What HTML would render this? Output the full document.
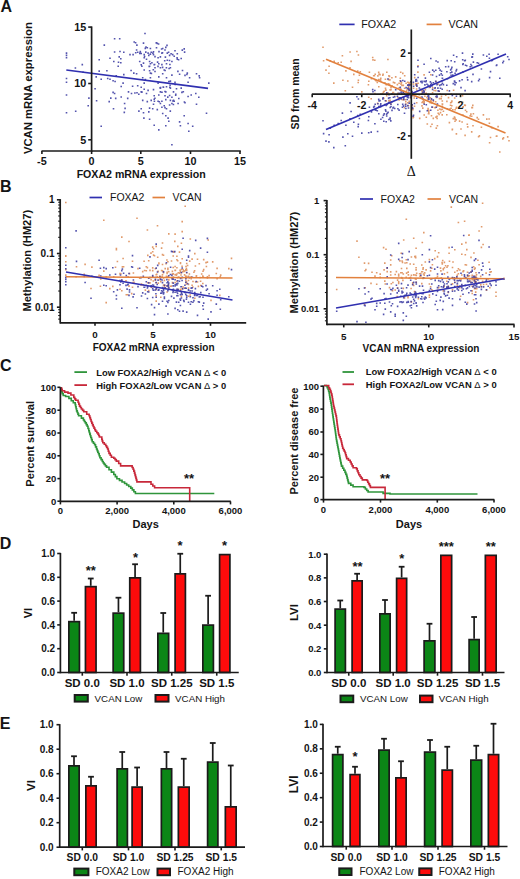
<!DOCTYPE html>
<html><head><meta charset="utf-8"><title>Figure</title>
<style>html,body{margin:0;padding:0;background:#fff;overflow:hidden;} svg{display:block;}</style></head>
<body><svg width="520" height="879" viewBox="0 0 520 879">
<rect width="520" height="879" fill="#fff"/>
<text x="0.40" y="12.30" font-family='"Liberation Sans", sans-serif' font-size="16" font-weight="bold" text-anchor="start" fill="#141414">A</text>
<path d="M113.8 38.0h1.6v1.6h-1.6zM118.9 38.0h1.6v1.6h-1.6zM103.5 44.3h1.6v1.6h-1.6zM133.4 41.2h1.6v1.6h-1.6zM136.1 44.3h1.6v1.6h-1.6zM135.8 49.2h1.6v1.6h-1.6zM136.9 51.5h1.6v1.6h-1.6zM113.8 51.2h1.6v1.6h-1.6zM119.2 50.7h1.6v1.6h-1.6zM123.0 51.5h1.6v1.6h-1.6zM129.2 53.8h1.6v1.6h-1.6zM132.3 53.8h1.6v1.6h-1.6zM118.4 56.1h1.6v1.6h-1.6zM120.0 58.0h1.6v1.6h-1.6zM109.2 57.4h1.6v1.6h-1.6zM98.4 58.9h1.6v1.6h-1.6zM113.0 60.7h1.6v1.6h-1.6zM117.7 61.5h1.6v1.6h-1.6zM120.0 62.0h1.6v1.6h-1.6zM117.4 65.4h1.6v1.6h-1.6zM81.5 63.8h1.6v1.6h-1.6zM74.6 67.2h1.6v1.6h-1.6zM65.7 52.3h1.6v1.6h-1.6zM65.7 56.9h1.6v1.6h-1.6zM65.7 77.7h1.6v1.6h-1.6zM65.7 81.5h1.6v1.6h-1.6zM82.3 71.5h1.6v1.6h-1.6zM98.4 70.3h1.6v1.6h-1.6zM106.1 70.0h1.6v1.6h-1.6zM130.3 69.7h1.6v1.6h-1.6zM133.0 72.3h1.6v1.6h-1.6zM135.8 73.0h1.6v1.6h-1.6zM95.4 76.1h1.6v1.6h-1.6zM100.4 78.4h1.6v1.6h-1.6zM106.9 77.7h1.6v1.6h-1.6zM109.2 78.4h1.6v1.6h-1.6zM112.3 80.0h1.6v1.6h-1.6zM114.3 80.7h1.6v1.6h-1.6zM115.4 74.9h1.6v1.6h-1.6zM123.0 73.8h1.6v1.6h-1.6zM122.3 82.3h1.6v1.6h-1.6zM138.9 60.7h1.6v1.6h-1.6zM65.7 54.6h1.6v1.6h-1.6zM65.7 94.2h1.6v1.6h-1.6zM65.7 111.9h1.6v1.6h-1.6zM74.9 110.4h1.6v1.6h-1.6zM88.1 97.3h1.6v1.6h-1.6zM87.4 105.0h1.6v1.6h-1.6zM94.3 88.0h1.6v1.6h-1.6zM95.8 99.9h1.6v1.6h-1.6zM100.4 125.4h1.6v1.6h-1.6zM108.4 100.8h1.6v1.6h-1.6zM110.0 97.3h1.6v1.6h-1.6zM112.3 91.6h1.6v1.6h-1.6zM113.8 92.7h1.6v1.6h-1.6zM114.9 97.6h1.6v1.6h-1.6zM112.7 108.0h1.6v1.6h-1.6zM120.4 96.2h1.6v1.6h-1.6zM120.4 85.7h1.6v1.6h-1.6zM123.8 102.7h1.6v1.6h-1.6zM124.3 107.6h1.6v1.6h-1.6zM123.5 111.6h1.6v1.6h-1.6zM126.9 97.6h1.6v1.6h-1.6zM127.7 91.1h1.6v1.6h-1.6zM130.7 92.7h1.6v1.6h-1.6zM134.1 92.2h1.6v1.6h-1.6zM138.0 93.4h1.6v1.6h-1.6zM131.8 85.4h1.6v1.6h-1.6zM136.9 85.0h1.6v1.6h-1.6zM144.2 32.7h1.6v1.6h-1.6zM142.7 42.3h1.6v1.6h-1.6zM156.5 42.6h1.6v1.6h-1.6zM146.5 46.9h1.6v1.6h-1.6zM149.6 47.7h1.6v1.6h-1.6zM155.7 46.9h1.6v1.6h-1.6zM161.9 47.7h1.6v1.6h-1.6zM165.0 46.6h1.6v1.6h-1.6zM164.2 49.2h1.6v1.6h-1.6zM174.2 50.0h1.6v1.6h-1.6zM183.4 48.1h1.6v1.6h-1.6zM140.4 52.7h1.6v1.6h-1.6zM143.4 53.8h1.6v1.6h-1.6zM147.3 52.3h1.6v1.6h-1.6zM148.0 54.6h1.6v1.6h-1.6zM150.4 51.5h1.6v1.6h-1.6zM152.7 53.8h1.6v1.6h-1.6zM154.2 55.8h1.6v1.6h-1.6zM157.3 56.9h1.6v1.6h-1.6zM159.6 56.1h1.6v1.6h-1.6zM161.1 52.3h1.6v1.6h-1.6zM166.5 52.3h1.6v1.6h-1.6zM168.8 54.6h1.6v1.6h-1.6zM171.9 53.8h1.6v1.6h-1.6zM173.4 55.4h1.6v1.6h-1.6zM176.5 58.4h1.6v1.6h-1.6zM180.4 57.7h1.6v1.6h-1.6zM143.4 56.9h1.6v1.6h-1.6zM145.7 58.4h1.6v1.6h-1.6zM142.7 62.3h1.6v1.6h-1.6zM148.8 60.7h1.6v1.6h-1.6zM149.6 63.0h1.6v1.6h-1.6zM151.1 62.0h1.6v1.6h-1.6zM153.4 63.8h1.6v1.6h-1.6zM158.0 63.0h1.6v1.6h-1.6zM161.1 63.8h1.6v1.6h-1.6zM166.5 59.5h1.6v1.6h-1.6zM171.1 60.7h1.6v1.6h-1.6zM165.7 63.0h1.6v1.6h-1.6zM141.1 65.4h1.6v1.6h-1.6zM148.8 65.4h1.6v1.6h-1.6zM154.2 66.9h1.6v1.6h-1.6zM159.6 66.9h1.6v1.6h-1.6zM163.4 69.2h1.6v1.6h-1.6zM169.6 66.9h1.6v1.6h-1.6zM143.4 69.2h1.6v1.6h-1.6zM148.8 70.0h1.6v1.6h-1.6zM149.6 72.3h1.6v1.6h-1.6zM154.2 70.7h1.6v1.6h-1.6zM161.9 73.0h1.6v1.6h-1.6zM171.1 74.3h1.6v1.6h-1.6zM178.8 73.4h1.6v1.6h-1.6zM184.2 74.6h1.6v1.6h-1.6zM186.5 72.3h1.6v1.6h-1.6zM188.8 76.9h1.6v1.6h-1.6zM195.7 73.0h1.6v1.6h-1.6zM198.8 76.9h1.6v1.6h-1.6zM141.9 76.9h1.6v1.6h-1.6zM149.6 76.9h1.6v1.6h-1.6zM158.0 76.1h1.6v1.6h-1.6zM165.7 76.9h1.6v1.6h-1.6zM168.0 80.7h1.6v1.6h-1.6zM174.2 81.5h1.6v1.6h-1.6zM187.3 81.5h1.6v1.6h-1.6zM208.0 82.3h1.6v1.6h-1.6zM143.4 82.3h1.6v1.6h-1.6zM157.3 82.3h1.6v1.6h-1.6zM140.4 86.5h1.6v1.6h-1.6zM143.4 88.5h1.6v1.6h-1.6zM147.3 89.6h1.6v1.6h-1.6zM152.7 88.8h1.6v1.6h-1.6zM159.6 87.3h1.6v1.6h-1.6zM162.7 86.5h1.6v1.6h-1.6zM165.7 86.0h1.6v1.6h-1.6zM169.6 87.3h1.6v1.6h-1.6zM175.7 88.0h1.6v1.6h-1.6zM180.4 87.3h1.6v1.6h-1.6zM181.1 91.6h1.6v1.6h-1.6zM140.4 91.1h1.6v1.6h-1.6zM145.7 92.7h1.6v1.6h-1.6zM159.6 91.1h1.6v1.6h-1.6zM165.0 91.1h1.6v1.6h-1.6zM172.7 91.1h1.6v1.6h-1.6zM175.0 93.4h1.6v1.6h-1.6zM153.4 95.0h1.6v1.6h-1.6zM158.0 94.2h1.6v1.6h-1.6zM164.2 95.0h1.6v1.6h-1.6zM168.8 94.7h1.6v1.6h-1.6zM171.1 96.5h1.6v1.6h-1.6zM178.0 97.7h1.6v1.6h-1.6zM187.3 95.7h1.6v1.6h-1.6zM190.4 94.2h1.6v1.6h-1.6zM195.0 92.7h1.6v1.6h-1.6zM198.0 96.5h1.6v1.6h-1.6zM141.9 99.6h1.6v1.6h-1.6zM146.5 100.8h1.6v1.6h-1.6zM150.4 99.6h1.6v1.6h-1.6zM153.4 98.4h1.6v1.6h-1.6zM157.3 100.4h1.6v1.6h-1.6zM161.1 100.4h1.6v1.6h-1.6zM165.0 98.8h1.6v1.6h-1.6zM169.6 99.6h1.6v1.6h-1.6zM173.4 100.4h1.6v1.6h-1.6zM152.7 103.4h1.6v1.6h-1.6zM159.6 102.7h1.6v1.6h-1.6zM163.4 105.0h1.6v1.6h-1.6zM168.8 104.2h1.6v1.6h-1.6zM171.1 102.7h1.6v1.6h-1.6zM177.3 102.7h1.6v1.6h-1.6zM184.2 101.9h1.6v1.6h-1.6zM195.7 103.4h1.6v1.6h-1.6zM140.4 108.0h1.6v1.6h-1.6zM148.8 107.3h1.6v1.6h-1.6zM151.9 108.0h1.6v1.6h-1.6zM156.5 108.8h1.6v1.6h-1.6zM161.1 106.5h1.6v1.6h-1.6zM165.7 108.0h1.6v1.6h-1.6zM142.7 111.9h1.6v1.6h-1.6zM148.0 111.1h1.6v1.6h-1.6zM161.9 112.7h1.6v1.6h-1.6zM165.0 115.0h1.6v1.6h-1.6zM167.3 117.3h1.6v1.6h-1.6zM168.0 120.4h1.6v1.6h-1.6zM183.4 115.0h1.6v1.6h-1.6zM205.7 112.4h1.6v1.6h-1.6zM143.1 117.3h1.6v1.6h-1.6zM148.8 118.4h1.6v1.6h-1.6zM178.8 121.1h1.6v1.6h-1.6zM187.3 122.7h1.6v1.6h-1.6zM153.4 124.5h1.6v1.6h-1.6zM165.0 125.0h1.6v1.6h-1.6zM179.6 125.0h1.6v1.6h-1.6zM191.9 125.4h1.6v1.6h-1.6zM158.0 129.1h1.6v1.6h-1.6zM188.0 130.4h1.6v1.6h-1.6zM171.1 143.9h1.6v1.6h-1.6zM198.4 75.1h1.6v1.6h-1.6zM181.7 69.7h1.6v1.6h-1.6zM158.5 101.0h1.6v1.6h-1.6zM164.2 90.7h1.6v1.6h-1.6zM186.1 73.7h1.6v1.6h-1.6zM160.8 48.2h1.6v1.6h-1.6zM144.6 78.7h1.6v1.6h-1.6zM136.2 92.0h1.6v1.6h-1.6zM177.1 70.6h1.6v1.6h-1.6zM145.0 51.3h1.6v1.6h-1.6zM157.8 43.2h1.6v1.6h-1.6zM170.3 52.9h1.6v1.6h-1.6zM157.2 65.6h1.6v1.6h-1.6zM174.4 83.6h1.6v1.6h-1.6zM134.8 41.9h1.6v1.6h-1.6zM140.4 64.0h1.6v1.6h-1.6zM172.6 103.7h1.6v1.6h-1.6zM153.6 100.4h1.6v1.6h-1.6zM155.5 42.1h1.6v1.6h-1.6zM166.2 44.6h1.6v1.6h-1.6zM136.9 51.4h1.6v1.6h-1.6zM161.7 51.9h1.6v1.6h-1.6zM161.8 66.6h1.6v1.6h-1.6zM145.2 46.2h1.6v1.6h-1.6zM174.9 94.5h1.6v1.6h-1.6zM168.7 59.7h1.6v1.6h-1.6zM176.5 52.9h1.6v1.6h-1.6zM139.5 50.8h1.6v1.6h-1.6zM152.1 52.3h1.6v1.6h-1.6zM169.3 84.5h1.6v1.6h-1.6zM181.5 49.3h1.6v1.6h-1.6zM168.3 67.7h1.6v1.6h-1.6zM149.6 53.3h1.6v1.6h-1.6zM161.2 91.4h1.6v1.6h-1.6zM163.9 59.9h1.6v1.6h-1.6zM169.0 86.4h1.6v1.6h-1.6zM143.8 55.7h1.6v1.6h-1.6zM154.1 97.4h1.6v1.6h-1.6zM164.3 69.7h1.6v1.6h-1.6zM159.3 87.0h1.6v1.6h-1.6zM152.5 68.9h1.6v1.6h-1.6zM159.8 86.8h1.6v1.6h-1.6zM138.1 110.3h1.6v1.6h-1.6zM156.8 61.3h1.6v1.6h-1.6zM176.3 56.9h1.6v1.6h-1.6zM182.5 91.0h1.6v1.6h-1.6zM165.6 66.9h1.6v1.6h-1.6zM150.6 72.7h1.6v1.6h-1.6zM169.6 80.3h1.6v1.6h-1.6zM167.0 96.3h1.6v1.6h-1.6zM164.2 106.8h1.6v1.6h-1.6zM158.2 50.8h1.6v1.6h-1.6zM183.8 51.3h1.6v1.6h-1.6zM183.6 101.2h1.6v1.6h-1.6zM167.8 51.5h1.6v1.6h-1.6zM139.0 52.6h1.6v1.6h-1.6zM177.8 59.0h1.6v1.6h-1.6zM148.4 65.6h1.6v1.6h-1.6zM152.7 50.9h1.6v1.6h-1.6zM164.6 56.3h1.6v1.6h-1.6zM162.4 86.2h1.6v1.6h-1.6zM134.9 51.9h1.6v1.6h-1.6zM153.8 63.7h1.6v1.6h-1.6zM141.1 91.5h1.6v1.6h-1.6zM149.9 72.5h1.6v1.6h-1.6zM144.5 47.6h1.6v1.6h-1.6zM140.9 91.0h1.6v1.6h-1.6zM172.7 99.4h1.6v1.6h-1.6zM169.1 63.7h1.6v1.6h-1.6zM169.5 110.3h1.6v1.6h-1.6zM172.1 100.2h1.6v1.6h-1.6z" fill="#3636a0" fill-opacity="0.85"/>
<line x1="66.30" y1="70.00" x2="208.00" y2="88.30" stroke="#3030b0" stroke-width="1.7" stroke-linecap="butt"/>
<line x1="91.60" y1="26.40" x2="91.60" y2="151.80" stroke="#1b1b1b" stroke-width="1.7" stroke-linecap="butt"/>
<line x1="41.50" y1="151.00" x2="240.80" y2="151.00" stroke="#1b1b1b" stroke-width="1.7" stroke-linecap="butt"/>
<line x1="88.20" y1="27.10" x2="91.60" y2="27.10" stroke="#1b1b1b" stroke-width="1.6" stroke-linecap="butt"/>
<text x="86.20" y="30.99" font-family='"Liberation Sans", sans-serif' font-size="10.8" font-weight="bold" text-anchor="end" fill="#141414">15</text>
<line x1="88.20" y1="83.50" x2="91.60" y2="83.50" stroke="#1b1b1b" stroke-width="1.6" stroke-linecap="butt"/>
<text x="86.20" y="87.39" font-family='"Liberation Sans", sans-serif' font-size="10.8" font-weight="bold" text-anchor="end" fill="#141414">10</text>
<line x1="88.20" y1="139.80" x2="91.60" y2="139.80" stroke="#1b1b1b" stroke-width="1.6" stroke-linecap="butt"/>
<text x="86.20" y="143.69" font-family='"Liberation Sans", sans-serif' font-size="10.8" font-weight="bold" text-anchor="end" fill="#141414">5</text>
<line x1="41.90" y1="151.00" x2="41.90" y2="154.00" stroke="#1b1b1b" stroke-width="1.6" stroke-linecap="butt"/>
<text x="41.90" y="165.30" font-family='"Liberation Sans", sans-serif' font-size="10.8" font-weight="bold" text-anchor="middle" fill="#141414">-5</text>
<line x1="91.60" y1="151.00" x2="91.60" y2="154.00" stroke="#1b1b1b" stroke-width="1.6" stroke-linecap="butt"/>
<text x="91.60" y="165.30" font-family='"Liberation Sans", sans-serif' font-size="10.8" font-weight="bold" text-anchor="middle" fill="#141414">0</text>
<line x1="140.80" y1="151.00" x2="140.80" y2="154.00" stroke="#1b1b1b" stroke-width="1.6" stroke-linecap="butt"/>
<text x="140.80" y="165.30" font-family='"Liberation Sans", sans-serif' font-size="10.8" font-weight="bold" text-anchor="middle" fill="#141414">5</text>
<line x1="190.50" y1="151.00" x2="190.50" y2="154.00" stroke="#1b1b1b" stroke-width="1.6" stroke-linecap="butt"/>
<text x="190.50" y="165.30" font-family='"Liberation Sans", sans-serif' font-size="10.8" font-weight="bold" text-anchor="middle" fill="#141414">10</text>
<line x1="240.00" y1="151.00" x2="240.00" y2="154.00" stroke="#1b1b1b" stroke-width="1.6" stroke-linecap="butt"/>
<text x="240.00" y="165.30" font-family='"Liberation Sans", sans-serif' font-size="10.8" font-weight="bold" text-anchor="middle" fill="#141414">15</text>
<text x="141.20" y="177.50" font-family='"Liberation Sans", sans-serif' font-size="10.6" font-weight="bold" text-anchor="middle" fill="#141414">FOXA2 mRNA expression</text>
<text x="31.80" y="88.10" font-family='"Liberation Sans", sans-serif' font-size="11.3" font-weight="bold" text-anchor="middle" fill="#141414" transform="rotate(-90 31.80 88.10)">VCAN mRNA expression</text>
<path d="M397.1 96.7h1.6v1.6h-1.6zM427.3 98.3h1.6v1.6h-1.6zM412.6 83.2h1.6v1.6h-1.6zM461.3 121.2h1.6v1.6h-1.6zM373.6 75.0h1.6v1.6h-1.6zM385.5 83.9h1.6v1.6h-1.6zM497.3 125.8h1.6v1.6h-1.6zM423.4 114.2h1.6v1.6h-1.6zM439.7 111.8h1.6v1.6h-1.6zM383.4 90.5h1.6v1.6h-1.6zM371.9 56.7h1.6v1.6h-1.6zM416.0 84.8h1.6v1.6h-1.6zM374.1 92.7h1.6v1.6h-1.6zM421.3 90.8h1.6v1.6h-1.6zM434.4 106.8h1.6v1.6h-1.6zM372.2 59.1h1.6v1.6h-1.6zM344.5 90.0h1.6v1.6h-1.6zM393.9 82.1h1.6v1.6h-1.6zM389.3 99.6h1.6v1.6h-1.6zM438.3 113.6h1.6v1.6h-1.6zM470.9 131.1h1.6v1.6h-1.6zM382.7 91.3h1.6v1.6h-1.6zM452.6 117.8h1.6v1.6h-1.6zM387.8 83.0h1.6v1.6h-1.6zM388.1 75.1h1.6v1.6h-1.6zM322.2 46.4h1.6v1.6h-1.6zM440.4 108.8h1.6v1.6h-1.6zM424.1 95.4h1.6v1.6h-1.6zM391.2 85.0h1.6v1.6h-1.6zM372.9 75.0h1.6v1.6h-1.6zM471.6 106.9h1.6v1.6h-1.6zM353.0 73.6h1.6v1.6h-1.6zM452.0 108.9h1.6v1.6h-1.6zM394.9 76.1h1.6v1.6h-1.6zM437.1 83.3h1.6v1.6h-1.6zM368.0 80.5h1.6v1.6h-1.6zM427.2 109.2h1.6v1.6h-1.6zM429.4 101.8h1.6v1.6h-1.6zM470.1 113.3h1.6v1.6h-1.6zM406.4 95.2h1.6v1.6h-1.6zM423.3 74.1h1.6v1.6h-1.6zM402.9 90.6h1.6v1.6h-1.6zM408.4 83.0h1.6v1.6h-1.6zM421.3 101.7h1.6v1.6h-1.6zM488.3 118.2h1.6v1.6h-1.6zM388.1 100.0h1.6v1.6h-1.6zM410.1 96.6h1.6v1.6h-1.6zM488.8 142.0h1.6v1.6h-1.6zM408.5 82.3h1.6v1.6h-1.6zM384.1 81.9h1.6v1.6h-1.6zM378.3 73.3h1.6v1.6h-1.6zM376.8 102.6h1.6v1.6h-1.6zM407.7 104.9h1.6v1.6h-1.6zM435.5 127.3h1.6v1.6h-1.6zM440.7 95.6h1.6v1.6h-1.6zM379.8 80.5h1.6v1.6h-1.6zM446.7 108.1h1.6v1.6h-1.6zM486.0 118.3h1.6v1.6h-1.6zM431.2 102.4h1.6v1.6h-1.6zM452.8 89.5h1.6v1.6h-1.6zM466.9 126.1h1.6v1.6h-1.6zM415.1 82.8h1.6v1.6h-1.6zM477.8 136.0h1.6v1.6h-1.6zM420.0 88.7h1.6v1.6h-1.6zM436.2 105.2h1.6v1.6h-1.6zM441.5 105.6h1.6v1.6h-1.6zM415.6 82.9h1.6v1.6h-1.6zM357.4 81.7h1.6v1.6h-1.6zM403.7 106.9h1.6v1.6h-1.6zM328.1 72.5h1.6v1.6h-1.6zM367.9 96.5h1.6v1.6h-1.6zM398.4 86.9h1.6v1.6h-1.6zM437.1 109.4h1.6v1.6h-1.6zM438.9 108.2h1.6v1.6h-1.6zM433.3 89.7h1.6v1.6h-1.6zM359.5 70.9h1.6v1.6h-1.6zM392.6 81.6h1.6v1.6h-1.6zM402.8 98.9h1.6v1.6h-1.6zM423.4 91.3h1.6v1.6h-1.6zM428.6 86.6h1.6v1.6h-1.6zM449.9 101.9h1.6v1.6h-1.6zM427.9 109.8h1.6v1.6h-1.6zM393.9 93.8h1.6v1.6h-1.6zM476.4 116.8h1.6v1.6h-1.6zM378.0 78.8h1.6v1.6h-1.6zM412.0 108.8h1.6v1.6h-1.6zM429.6 97.0h1.6v1.6h-1.6zM403.9 75.0h1.6v1.6h-1.6zM447.7 96.8h1.6v1.6h-1.6zM441.5 100.2h1.6v1.6h-1.6zM400.2 83.3h1.6v1.6h-1.6zM407.8 94.6h1.6v1.6h-1.6zM387.8 78.4h1.6v1.6h-1.6zM454.4 118.5h1.6v1.6h-1.6zM422.0 107.3h1.6v1.6h-1.6zM451.5 128.8h1.6v1.6h-1.6zM496.0 135.3h1.6v1.6h-1.6zM405.0 100.9h1.6v1.6h-1.6zM461.9 101.6h1.6v1.6h-1.6zM451.0 105.0h1.6v1.6h-1.6zM407.0 101.9h1.6v1.6h-1.6zM406.4 88.7h1.6v1.6h-1.6zM434.9 100.9h1.6v1.6h-1.6zM387.1 58.7h1.6v1.6h-1.6zM333.0 82.3h1.6v1.6h-1.6zM441.5 108.5h1.6v1.6h-1.6zM396.6 83.8h1.6v1.6h-1.6zM375.2 79.9h1.6v1.6h-1.6zM438.7 97.8h1.6v1.6h-1.6zM426.2 96.6h1.6v1.6h-1.6zM377.1 75.1h1.6v1.6h-1.6zM411.3 95.0h1.6v1.6h-1.6zM409.3 83.3h1.6v1.6h-1.6zM379.2 73.8h1.6v1.6h-1.6zM342.1 79.4h1.6v1.6h-1.6zM430.7 114.9h1.6v1.6h-1.6zM341.6 54.9h1.6v1.6h-1.6zM480.6 126.5h1.6v1.6h-1.6zM385.1 89.3h1.6v1.6h-1.6zM407.0 81.4h1.6v1.6h-1.6zM376.5 81.6h1.6v1.6h-1.6zM458.8 120.3h1.6v1.6h-1.6zM470.9 115.4h1.6v1.6h-1.6zM391.2 93.5h1.6v1.6h-1.6zM441.7 103.3h1.6v1.6h-1.6zM367.6 84.0h1.6v1.6h-1.6zM421.2 105.1h1.6v1.6h-1.6zM413.9 76.8h1.6v1.6h-1.6zM463.8 104.3h1.6v1.6h-1.6zM350.3 60.6h1.6v1.6h-1.6zM408.0 81.8h1.6v1.6h-1.6zM425.0 93.0h1.6v1.6h-1.6zM390.2 88.8h1.6v1.6h-1.6zM428.1 113.0h1.6v1.6h-1.6zM385.9 94.8h1.6v1.6h-1.6zM455.8 106.5h1.6v1.6h-1.6zM435.2 116.3h1.6v1.6h-1.6zM418.9 117.6h1.6v1.6h-1.6zM411.2 107.0h1.6v1.6h-1.6zM380.0 77.5h1.6v1.6h-1.6zM439.3 93.3h1.6v1.6h-1.6zM402.5 84.6h1.6v1.6h-1.6zM462.0 106.5h1.6v1.6h-1.6zM415.8 88.2h1.6v1.6h-1.6zM419.8 96.4h1.6v1.6h-1.6zM340.4 61.4h1.6v1.6h-1.6zM508.2 140.0h1.6v1.6h-1.6zM438.3 90.5h1.6v1.6h-1.6zM464.3 134.6h1.6v1.6h-1.6zM464.7 109.5h1.6v1.6h-1.6zM413.7 105.4h1.6v1.6h-1.6zM450.4 93.3h1.6v1.6h-1.6zM399.9 71.5h1.6v1.6h-1.6zM357.6 79.4h1.6v1.6h-1.6zM378.0 85.9h1.6v1.6h-1.6zM451.6 128.4h1.6v1.6h-1.6zM388.8 83.7h1.6v1.6h-1.6zM410.1 80.9h1.6v1.6h-1.6zM390.0 103.1h1.6v1.6h-1.6zM416.1 90.2h1.6v1.6h-1.6zM398.3 99.2h1.6v1.6h-1.6zM478.6 135.1h1.6v1.6h-1.6zM449.7 104.5h1.6v1.6h-1.6zM430.0 73.9h1.6v1.6h-1.6zM400.3 89.6h1.6v1.6h-1.6zM328.3 65.5h1.6v1.6h-1.6zM374.5 79.1h1.6v1.6h-1.6zM382.3 73.6h1.6v1.6h-1.6zM451.1 100.3h1.6v1.6h-1.6zM472.6 112.9h1.6v1.6h-1.6zM432.6 100.4h1.6v1.6h-1.6zM477.7 118.5h1.6v1.6h-1.6zM389.4 89.1h1.6v1.6h-1.6zM400.7 81.9h1.6v1.6h-1.6zM411.2 91.4h1.6v1.6h-1.6zM464.5 104.6h1.6v1.6h-1.6zM405.1 103.2h1.6v1.6h-1.6zM385.8 92.7h1.6v1.6h-1.6zM422.1 101.1h1.6v1.6h-1.6zM429.9 100.1h1.6v1.6h-1.6zM402.0 72.6h1.6v1.6h-1.6zM387.8 78.8h1.6v1.6h-1.6zM403.8 87.4h1.6v1.6h-1.6zM407.0 92.6h1.6v1.6h-1.6zM430.3 101.3h1.6v1.6h-1.6zM491.6 127.0h1.6v1.6h-1.6zM434.1 107.0h1.6v1.6h-1.6zM387.3 92.2h1.6v1.6h-1.6zM410.2 94.8h1.6v1.6h-1.6zM407.8 86.4h1.6v1.6h-1.6zM490.9 126.8h1.6v1.6h-1.6zM408.0 89.5h1.6v1.6h-1.6zM386.7 92.6h1.6v1.6h-1.6zM448.6 121.8h1.6v1.6h-1.6zM421.2 89.3h1.6v1.6h-1.6zM495.6 135.5h1.6v1.6h-1.6zM453.7 116.2h1.6v1.6h-1.6zM412.7 116.2h1.6v1.6h-1.6zM462.1 114.2h1.6v1.6h-1.6zM397.0 92.5h1.6v1.6h-1.6zM453.9 97.2h1.6v1.6h-1.6zM469.4 115.1h1.6v1.6h-1.6zM356.1 50.7h1.6v1.6h-1.6zM489.7 136.7h1.6v1.6h-1.6zM415.0 84.1h1.6v1.6h-1.6zM400.0 88.2h1.6v1.6h-1.6zM472.2 125.0h1.6v1.6h-1.6zM411.8 108.8h1.6v1.6h-1.6zM455.3 107.5h1.6v1.6h-1.6zM435.3 80.8h1.6v1.6h-1.6zM435.7 96.7h1.6v1.6h-1.6zM345.1 70.1h1.6v1.6h-1.6zM462.4 106.1h1.6v1.6h-1.6zM407.7 92.3h1.6v1.6h-1.6zM431.9 87.1h1.6v1.6h-1.6zM405.7 90.3h1.6v1.6h-1.6zM333.4 60.4h1.6v1.6h-1.6zM381.8 92.8h1.6v1.6h-1.6zM446.1 100.6h1.6v1.6h-1.6zM430.6 99.1h1.6v1.6h-1.6zM389.3 100.5h1.6v1.6h-1.6zM440.4 97.8h1.6v1.6h-1.6zM454.2 120.4h1.6v1.6h-1.6zM418.5 93.9h1.6v1.6h-1.6zM455.6 133.1h1.6v1.6h-1.6zM351.7 86.5h1.6v1.6h-1.6zM357.6 54.2h1.6v1.6h-1.6zM398.3 82.4h1.6v1.6h-1.6zM425.4 92.5h1.6v1.6h-1.6zM432.5 117.6h1.6v1.6h-1.6zM423.2 102.4h1.6v1.6h-1.6zM424.6 89.0h1.6v1.6h-1.6zM448.9 108.3h1.6v1.6h-1.6zM422.7 99.9h1.6v1.6h-1.6zM399.5 77.4h1.6v1.6h-1.6zM411.4 104.6h1.6v1.6h-1.6zM349.3 51.2h1.6v1.6h-1.6zM444.9 94.5h1.6v1.6h-1.6zM455.3 119.1h1.6v1.6h-1.6zM392.1 91.8h1.6v1.6h-1.6zM417.2 65.0h1.6v1.6h-1.6zM412.8 87.4h1.6v1.6h-1.6zM374.4 73.5h1.6v1.6h-1.6zM400.4 81.4h1.6v1.6h-1.6zM408.4 100.5h1.6v1.6h-1.6zM406.9 84.4h1.6v1.6h-1.6zM370.7 78.0h1.6v1.6h-1.6zM454.0 116.9h1.6v1.6h-1.6zM383.0 97.6h1.6v1.6h-1.6zM379.8 79.1h1.6v1.6h-1.6zM471.1 106.8h1.6v1.6h-1.6zM441.4 114.1h1.6v1.6h-1.6zM417.3 82.4h1.6v1.6h-1.6zM482.6 114.1h1.6v1.6h-1.6zM412.3 117.0h1.6v1.6h-1.6zM461.7 94.9h1.6v1.6h-1.6zM401.6 99.0h1.6v1.6h-1.6zM401.1 84.6h1.6v1.6h-1.6zM428.0 111.6h1.6v1.6h-1.6zM429.9 125.7h1.6v1.6h-1.6zM349.2 67.1h1.6v1.6h-1.6zM436.6 125.0h1.6v1.6h-1.6zM415.9 101.9h1.6v1.6h-1.6zM454.3 108.9h1.6v1.6h-1.6zM389.1 79.1h1.6v1.6h-1.6zM417.1 71.3h1.6v1.6h-1.6zM425.5 116.4h1.6v1.6h-1.6zM382.0 74.4h1.6v1.6h-1.6zM374.0 59.4h1.6v1.6h-1.6zM427.3 107.7h1.6v1.6h-1.6zM408.8 87.9h1.6v1.6h-1.6zM450.3 107.5h1.6v1.6h-1.6zM399.3 79.9h1.6v1.6h-1.6zM403.0 92.4h1.6v1.6h-1.6zM378.1 78.8h1.6v1.6h-1.6zM384.6 78.4h1.6v1.6h-1.6zM431.2 123.5h1.6v1.6h-1.6zM368.6 71.5h1.6v1.6h-1.6zM502.0 138.1h1.6v1.6h-1.6zM472.0 104.6h1.6v1.6h-1.6zM370.4 97.9h1.6v1.6h-1.6zM506.9 136.1h1.6v1.6h-1.6zM347.0 80.2h1.6v1.6h-1.6zM401.9 96.4h1.6v1.6h-1.6zM386.0 71.5h1.6v1.6h-1.6zM431.8 91.9h1.6v1.6h-1.6zM384.7 87.6h1.6v1.6h-1.6zM465.9 111.0h1.6v1.6h-1.6zM446.0 114.0h1.6v1.6h-1.6zM410.7 92.4h1.6v1.6h-1.6zM442.6 110.4h1.6v1.6h-1.6zM441.5 103.2h1.6v1.6h-1.6zM361.0 91.1h1.6v1.6h-1.6zM450.7 101.4h1.6v1.6h-1.6zM488.6 122.5h1.6v1.6h-1.6zM380.1 93.2h1.6v1.6h-1.6zM390.2 86.6h1.6v1.6h-1.6zM502.7 137.1h1.6v1.6h-1.6zM391.1 77.0h1.6v1.6h-1.6zM407.8 85.3h1.6v1.6h-1.6zM466.5 123.4h1.6v1.6h-1.6zM446.4 89.7h1.6v1.6h-1.6zM404.7 98.9h1.6v1.6h-1.6zM386.3 83.4h1.6v1.6h-1.6zM427.7 112.9h1.6v1.6h-1.6zM322.8 59.9h1.6v1.6h-1.6zM356.9 70.3h1.6v1.6h-1.6zM431.8 106.4h1.6v1.6h-1.6zM337.4 62.0h1.6v1.6h-1.6zM325.2 69.3h1.6v1.6h-1.6zM392.7 91.8h1.6v1.6h-1.6zM358.6 74.5h1.6v1.6h-1.6zM413.4 97.2h1.6v1.6h-1.6zM455.9 93.7h1.6v1.6h-1.6zM452.5 118.0h1.6v1.6h-1.6zM423.4 101.1h1.6v1.6h-1.6zM426.5 123.2h1.6v1.6h-1.6zM405.7 91.1h1.6v1.6h-1.6zM436.3 117.6h1.6v1.6h-1.6zM460.2 128.2h1.6v1.6h-1.6zM405.3 82.5h1.6v1.6h-1.6zM437.4 112.4h1.6v1.6h-1.6zM406.6 93.3h1.6v1.6h-1.6zM388.7 75.6h1.6v1.6h-1.6zM377.9 71.5h1.6v1.6h-1.6zM499.0 151.2h1.6v1.6h-1.6zM436.2 115.5h1.6v1.6h-1.6zM385.4 100.1h1.6v1.6h-1.6zM329.5 60.1h1.6v1.6h-1.6zM435.0 89.8h1.6v1.6h-1.6z" fill="#dc8a52" fill-opacity="0.85"/>
<path d="M397.1 107.9h1.6v1.6h-1.6zM427.3 84.4h1.6v1.6h-1.6zM412.6 81.4h1.6v1.6h-1.6zM461.3 78.9h1.6v1.6h-1.6zM373.6 105.6h1.6v1.6h-1.6zM385.5 104.6h1.6v1.6h-1.6zM497.3 53.5h1.6v1.6h-1.6zM423.4 103.5h1.6v1.6h-1.6zM439.7 87.5h1.6v1.6h-1.6zM383.4 113.1h1.6v1.6h-1.6zM371.9 88.8h1.6v1.6h-1.6zM416.0 80.2h1.6v1.6h-1.6zM374.1 123.0h1.6v1.6h-1.6zM421.3 81.8h1.6v1.6h-1.6zM434.4 87.0h1.6v1.6h-1.6zM372.2 91.0h1.6v1.6h-1.6zM344.5 144.9h1.6v1.6h-1.6zM393.9 95.9h1.6v1.6h-1.6zM389.3 117.2h1.6v1.6h-1.6zM438.3 90.4h1.6v1.6h-1.6zM470.9 80.8h1.6v1.6h-1.6zM382.7 114.4h1.6v1.6h-1.6zM452.6 82.8h1.6v1.6h-1.6zM387.8 101.8h1.6v1.6h-1.6zM388.1 93.8h1.6v1.6h-1.6zM322.2 119.9h1.6v1.6h-1.6zM440.4 83.9h1.6v1.6h-1.6zM424.1 84.1h1.6v1.6h-1.6zM391.2 101.0h1.6v1.6h-1.6zM372.9 106.3h1.6v1.6h-1.6zM471.6 56.1h1.6v1.6h-1.6zM353.0 121.5h1.6v1.6h-1.6zM452.0 74.3h1.6v1.6h-1.6zM394.9 89.0h1.6v1.6h-1.6zM437.1 61.2h1.6v1.6h-1.6zM368.0 115.9h1.6v1.6h-1.6zM427.2 95.4h1.6v1.6h-1.6zM429.4 86.1h1.6v1.6h-1.6zM470.1 63.7h1.6v1.6h-1.6zM406.4 98.7h1.6v1.6h-1.6zM423.3 63.5h1.6v1.6h-1.6zM402.9 96.9h1.6v1.6h-1.6zM408.4 84.7h1.6v1.6h-1.6zM421.3 92.7h1.6v1.6h-1.6zM488.3 53.4h1.6v1.6h-1.6zM388.1 118.7h1.6v1.6h-1.6zM410.1 97.0h1.6v1.6h-1.6zM488.8 76.8h1.6v1.6h-1.6zM408.5 84.0h1.6v1.6h-1.6zM384.1 103.8h1.6v1.6h-1.6zM378.3 100.1h1.6v1.6h-1.6zM376.8 130.7h1.6v1.6h-1.6zM407.7 107.2h1.6v1.6h-1.6zM435.5 106.5h1.6v1.6h-1.6zM440.7 70.4h1.6v1.6h-1.6zM379.8 106.0h1.6v1.6h-1.6zM446.7 78.0h1.6v1.6h-1.6zM486.0 55.5h1.6v1.6h-1.6zM431.2 85.1h1.6v1.6h-1.6zM452.8 54.4h1.6v1.6h-1.6zM466.9 79.1h1.6v1.6h-1.6zM415.1 79.0h1.6v1.6h-1.6zM477.8 80.0h1.6v1.6h-1.6zM420.0 80.8h1.6v1.6h-1.6zM436.2 83.8h1.6v1.6h-1.6zM441.5 79.9h1.6v1.6h-1.6zM415.6 78.7h1.6v1.6h-1.6zM357.4 125.8h1.6v1.6h-1.6zM403.7 112.5h1.6v1.6h-1.6zM328.1 141.1h1.6v1.6h-1.6zM367.9 131.9h1.6v1.6h-1.6zM398.4 97.0h1.6v1.6h-1.6zM437.1 87.3h1.6v1.6h-1.6zM438.9 84.6h1.6v1.6h-1.6zM433.3 70.7h1.6v1.6h-1.6zM359.5 113.4h1.6v1.6h-1.6zM392.6 96.5h1.6v1.6h-1.6zM402.8 105.3h1.6v1.6h-1.6zM423.4 80.6h1.6v1.6h-1.6zM428.6 71.5h1.6v1.6h-1.6zM449.9 69.1h1.6v1.6h-1.6zM427.9 95.3h1.6v1.6h-1.6zM393.9 107.7h1.6v1.6h-1.6zM476.4 62.0h1.6v1.6h-1.6zM378.0 105.8h1.6v1.6h-1.6zM412.0 107.5h1.6v1.6h-1.6zM429.6 81.1h1.6v1.6h-1.6zM403.9 80.5h1.6v1.6h-1.6zM447.7 65.8h1.6v1.6h-1.6zM441.5 74.4h1.6v1.6h-1.6zM400.2 91.9h1.6v1.6h-1.6zM407.8 96.8h1.6v1.6h-1.6zM387.8 97.3h1.6v1.6h-1.6zM454.4 82.0h1.6v1.6h-1.6zM422.0 97.8h1.6v1.6h-1.6zM451.5 94.7h1.6v1.6h-1.6zM496.0 64.2h1.6v1.6h-1.6zM405.0 105.5h1.6v1.6h-1.6zM461.9 58.9h1.6v1.6h-1.6zM451.0 71.3h1.6v1.6h-1.6zM407.0 104.8h1.6v1.6h-1.6zM406.4 92.0h1.6v1.6h-1.6zM434.9 80.6h1.6v1.6h-1.6zM387.1 78.2h1.6v1.6h-1.6zM333.0 146.8h1.6v1.6h-1.6zM441.5 82.6h1.6v1.6h-1.6zM396.6 95.4h1.6v1.6h-1.6zM375.2 109.3h1.6v1.6h-1.6zM438.7 74.3h1.6v1.6h-1.6zM426.2 83.5h1.6v1.6h-1.6zM377.1 102.9h1.6v1.6h-1.6zM411.3 94.3h1.6v1.6h-1.6zM409.3 84.2h1.6v1.6h-1.6zM379.2 99.8h1.6v1.6h-1.6zM342.1 136.3h1.6v1.6h-1.6zM430.7 98.1h1.6v1.6h-1.6zM341.6 112.3h1.6v1.6h-1.6zM480.6 68.2h1.6v1.6h-1.6zM385.1 110.4h1.6v1.6h-1.6zM407.0 84.3h1.6v1.6h-1.6zM376.5 109.9h1.6v1.6h-1.6zM458.8 80.1h1.6v1.6h-1.6zM470.9 65.2h1.6v1.6h-1.6zM391.2 109.6h1.6v1.6h-1.6zM441.7 77.4h1.6v1.6h-1.6zM367.6 119.7h1.6v1.6h-1.6zM421.2 96.2h1.6v1.6h-1.6zM413.9 74.0h1.6v1.6h-1.6zM463.8 59.9h1.6v1.6h-1.6zM350.3 110.7h1.6v1.6h-1.6zM408.0 83.9h1.6v1.6h-1.6zM425.0 80.9h1.6v1.6h-1.6zM390.2 105.7h1.6v1.6h-1.6zM428.1 98.4h1.6v1.6h-1.6zM385.9 115.2h1.6v1.6h-1.6zM455.8 68.8h1.6v1.6h-1.6zM435.2 95.7h1.6v1.6h-1.6zM418.9 110.6h1.6v1.6h-1.6zM411.2 106.4h1.6v1.6h-1.6zM380.0 102.9h1.6v1.6h-1.6zM439.3 69.3h1.6v1.6h-1.6zM402.5 91.3h1.6v1.6h-1.6zM462.0 63.7h1.6v1.6h-1.6zM415.8 83.8h1.6v1.6h-1.6zM419.8 88.7h1.6v1.6h-1.6zM340.4 119.7h1.6v1.6h-1.6zM508.2 58.7h1.6v1.6h-1.6zM438.3 67.4h1.6v1.6h-1.6zM464.3 89.8h1.6v1.6h-1.6zM464.7 64.4h1.6v1.6h-1.6zM413.7 102.7h1.6v1.6h-1.6zM450.4 60.0h1.6v1.6h-1.6zM399.9 80.3h1.6v1.6h-1.6zM357.6 123.5h1.6v1.6h-1.6zM378.0 113.0h1.6v1.6h-1.6zM451.6 94.2h1.6v1.6h-1.6zM388.8 101.8h1.6v1.6h-1.6zM410.1 81.2h1.6v1.6h-1.6zM390.0 120.1h1.6v1.6h-1.6zM416.1 85.5h1.6v1.6h-1.6zM398.3 109.3h1.6v1.6h-1.6zM478.6 78.5h1.6v1.6h-1.6zM449.7 71.9h1.6v1.6h-1.6zM430.0 57.7h1.6v1.6h-1.6zM400.3 98.1h1.6v1.6h-1.6zM328.3 133.9h1.6v1.6h-1.6zM374.5 109.1h1.6v1.6h-1.6zM382.3 97.1h1.6v1.6h-1.6zM451.1 66.5h1.6v1.6h-1.6zM472.6 61.3h1.6v1.6h-1.6zM432.6 82.0h1.6v1.6h-1.6zM477.7 62.5h1.6v1.6h-1.6zM389.4 106.7h1.6v1.6h-1.6zM400.7 90.1h1.6v1.6h-1.6zM411.2 90.8h1.6v1.6h-1.6zM464.5 59.6h1.6v1.6h-1.6zM405.1 107.7h1.6v1.6h-1.6zM385.8 113.3h1.6v1.6h-1.6zM422.1 91.5h1.6v1.6h-1.6zM429.9 83.9h1.6v1.6h-1.6zM402.0 79.7h1.6v1.6h-1.6zM387.8 97.7h1.6v1.6h-1.6zM403.8 93.0h1.6v1.6h-1.6zM407.0 95.4h1.6v1.6h-1.6zM430.3 84.8h1.6v1.6h-1.6zM491.6 59.5h1.6v1.6h-1.6zM434.1 87.4h1.6v1.6h-1.6zM387.3 111.5h1.6v1.6h-1.6zM410.2 95.1h1.6v1.6h-1.6zM407.8 88.6h1.6v1.6h-1.6zM490.9 59.9h1.6v1.6h-1.6zM408.0 91.6h1.6v1.6h-1.6zM386.7 112.3h1.6v1.6h-1.6zM448.6 90.1h1.6v1.6h-1.6zM421.2 80.4h1.6v1.6h-1.6zM495.6 64.7h1.6v1.6h-1.6zM453.7 80.3h1.6v1.6h-1.6zM412.7 114.4h1.6v1.6h-1.6zM462.1 71.3h1.6v1.6h-1.6zM397.0 103.7h1.6v1.6h-1.6zM453.9 61.0h1.6v1.6h-1.6zM469.4 66.0h1.6v1.6h-1.6zM356.1 96.0h1.6v1.6h-1.6zM489.7 70.8h1.6v1.6h-1.6zM415.0 80.3h1.6v1.6h-1.6zM400.0 96.9h1.6v1.6h-1.6zM472.2 73.6h1.6v1.6h-1.6zM411.8 107.7h1.6v1.6h-1.6zM455.3 70.2h1.6v1.6h-1.6zM435.3 60.2h1.6v1.6h-1.6zM435.7 75.7h1.6v1.6h-1.6zM345.1 124.5h1.6v1.6h-1.6zM462.4 63.0h1.6v1.6h-1.6zM407.7 94.7h1.6v1.6h-1.6zM431.9 69.3h1.6v1.6h-1.6zM405.7 94.3h1.6v1.6h-1.6zM333.4 124.5h1.6v1.6h-1.6zM381.8 116.7h1.6v1.6h-1.6zM446.1 71.0h1.6v1.6h-1.6zM430.6 82.4h1.6v1.6h-1.6zM389.3 118.1h1.6v1.6h-1.6zM440.4 72.9h1.6v1.6h-1.6zM454.2 84.0h1.6v1.6h-1.6zM418.5 87.2h1.6v1.6h-1.6zM455.6 95.5h1.6v1.6h-1.6zM351.7 135.4h1.6v1.6h-1.6zM357.6 98.2h1.6v1.6h-1.6zM398.3 92.6h1.6v1.6h-1.6zM425.4 80.1h1.6v1.6h-1.6zM432.5 99.3h1.6v1.6h-1.6zM423.2 91.8h1.6v1.6h-1.6zM424.6 77.3h1.6v1.6h-1.6zM448.9 76.4h1.6v1.6h-1.6zM422.7 89.7h1.6v1.6h-1.6zM399.5 86.6h1.6v1.6h-1.6zM411.4 103.9h1.6v1.6h-1.6zM349.3 102.1h1.6v1.6h-1.6zM444.9 65.9h1.6v1.6h-1.6zM455.3 81.9h1.6v1.6h-1.6zM392.1 107.2h1.6v1.6h-1.6zM417.2 59.4h1.6v1.6h-1.6zM412.8 85.5h1.6v1.6h-1.6zM374.4 103.5h1.6v1.6h-1.6zM400.4 89.9h1.6v1.6h-1.6zM408.4 102.3h1.6v1.6h-1.6zM406.9 87.4h1.6v1.6h-1.6zM370.7 111.1h1.6v1.6h-1.6zM454.0 80.7h1.6v1.6h-1.6zM383.0 120.5h1.6v1.6h-1.6zM379.8 104.6h1.6v1.6h-1.6zM471.1 56.3h1.6v1.6h-1.6zM441.4 88.4h1.6v1.6h-1.6zM417.3 76.7h1.6v1.6h-1.6zM482.6 54.2h1.6v1.6h-1.6zM412.3 115.5h1.6v1.6h-1.6zM461.7 52.3h1.6v1.6h-1.6zM401.6 106.4h1.6v1.6h-1.6zM401.1 92.4h1.6v1.6h-1.6zM428.0 97.0h1.6v1.6h-1.6zM429.9 109.5h1.6v1.6h-1.6zM349.2 118.1h1.6v1.6h-1.6zM436.6 103.3h1.6v1.6h-1.6zM415.9 97.4h1.6v1.6h-1.6zM454.3 72.5h1.6v1.6h-1.6zM389.1 96.9h1.6v1.6h-1.6zM417.1 65.9h1.6v1.6h-1.6zM425.5 103.9h1.6v1.6h-1.6zM382.0 98.1h1.6v1.6h-1.6zM374.0 89.7h1.6v1.6h-1.6zM427.3 93.7h1.6v1.6h-1.6zM408.8 89.3h1.6v1.6h-1.6zM450.3 74.4h1.6v1.6h-1.6zM399.3 89.1h1.6v1.6h-1.6zM403.0 98.6h1.6v1.6h-1.6zM378.1 105.7h1.6v1.6h-1.6zM384.6 100.0h1.6v1.6h-1.6zM431.2 106.3h1.6v1.6h-1.6zM368.6 106.4h1.6v1.6h-1.6zM502.0 61.9h1.6v1.6h-1.6zM472.0 53.3h1.6v1.6h-1.6zM370.4 131.3h1.6v1.6h-1.6zM506.9 55.9h1.6v1.6h-1.6zM347.0 133.0h1.6v1.6h-1.6zM401.9 103.6h1.6v1.6h-1.6zM386.0 91.9h1.6v1.6h-1.6zM431.8 74.2h1.6v1.6h-1.6zM384.7 109.1h1.6v1.6h-1.6zM465.9 64.9h1.6v1.6h-1.6zM446.0 84.4h1.6v1.6h-1.6zM410.7 92.2h1.6v1.6h-1.6zM442.6 83.8h1.6v1.6h-1.6zM441.5 77.4h1.6v1.6h-1.6zM361.0 132.3h1.6v1.6h-1.6zM450.7 68.0h1.6v1.6h-1.6zM488.6 57.5h1.6v1.6h-1.6zM380.1 118.5h1.6v1.6h-1.6zM390.2 103.5h1.6v1.6h-1.6zM502.7 60.4h1.6v1.6h-1.6zM391.1 93.2h1.6v1.6h-1.6zM407.8 87.5h1.6v1.6h-1.6zM466.5 76.7h1.6v1.6h-1.6zM446.4 59.8h1.6v1.6h-1.6zM404.7 103.7h1.6v1.6h-1.6zM386.3 103.6h1.6v1.6h-1.6zM427.7 98.6h1.6v1.6h-1.6zM322.8 132.8h1.6v1.6h-1.6zM356.9 114.8h1.6v1.6h-1.6zM431.8 88.7h1.6v1.6h-1.6zM337.4 122.8h1.6v1.6h-1.6zM325.2 140.3h1.6v1.6h-1.6zM392.7 106.6h1.6v1.6h-1.6zM358.6 117.7h1.6v1.6h-1.6zM413.4 94.8h1.6v1.6h-1.6zM455.9 55.9h1.6v1.6h-1.6zM452.5 83.0h1.6v1.6h-1.6zM423.4 90.4h1.6v1.6h-1.6zM426.5 109.9h1.6v1.6h-1.6zM405.7 95.1h1.6v1.6h-1.6zM436.3 96.1h1.6v1.6h-1.6zM460.2 86.8h1.6v1.6h-1.6zM405.3 86.8h1.6v1.6h-1.6zM437.4 90.1h1.6v1.6h-1.6zM406.6 96.5h1.6v1.6h-1.6zM388.7 93.7h1.6v1.6h-1.6zM377.9 98.6h1.6v1.6h-1.6zM499.0 77.5h1.6v1.6h-1.6zM436.2 94.1h1.6v1.6h-1.6zM385.4 121.0h1.6v1.6h-1.6zM329.5 127.5h1.6v1.6h-1.6zM435.0 69.4h1.6v1.6h-1.6z" fill="#3636a0" fill-opacity="0.85"/>
<line x1="326.00" y1="59.25" x2="505.50" y2="133.00" stroke="#e2813e" stroke-width="1.7" stroke-linecap="butt"/>
<line x1="326.00" y1="129.50" x2="506.00" y2="54.00" stroke="#3030b0" stroke-width="1.7" stroke-linecap="butt"/>
<line x1="411.30" y1="29.50" x2="411.30" y2="158.80" stroke="#1b1b1b" stroke-width="1.7" stroke-linecap="butt"/>
<line x1="311.80" y1="94.20" x2="510.80" y2="94.20" stroke="#1b1b1b" stroke-width="1.7" stroke-linecap="butt"/>
<line x1="407.90" y1="53.10" x2="411.30" y2="53.10" stroke="#1b1b1b" stroke-width="1.6" stroke-linecap="butt"/>
<text x="405.90" y="56.70" font-family='"Liberation Sans", sans-serif' font-size="10.0" font-weight="bold" text-anchor="end" fill="#141414">2</text>
<line x1="407.90" y1="135.90" x2="411.30" y2="135.90" stroke="#1b1b1b" stroke-width="1.6" stroke-linecap="butt"/>
<text x="405.90" y="139.50" font-family='"Liberation Sans", sans-serif' font-size="10.0" font-weight="bold" text-anchor="end" fill="#141414">-2</text>
<line x1="312.20" y1="94.20" x2="312.20" y2="97.20" stroke="#1b1b1b" stroke-width="1.6" stroke-linecap="butt"/>
<text x="312.20" y="109.30" font-family='"Liberation Sans", sans-serif' font-size="10.6" font-weight="bold" text-anchor="middle" fill="#141414">-4</text>
<line x1="361.75" y1="94.20" x2="361.75" y2="97.20" stroke="#1b1b1b" stroke-width="1.6" stroke-linecap="butt"/>
<text x="361.75" y="109.30" font-family='"Liberation Sans", sans-serif' font-size="10.6" font-weight="bold" text-anchor="middle" fill="#141414">-2</text>
<line x1="460.50" y1="94.20" x2="460.50" y2="97.20" stroke="#1b1b1b" stroke-width="1.6" stroke-linecap="butt"/>
<text x="460.50" y="109.30" font-family='"Liberation Sans", sans-serif' font-size="10.6" font-weight="bold" text-anchor="middle" fill="#141414">2</text>
<line x1="510.20" y1="94.20" x2="510.20" y2="97.20" stroke="#1b1b1b" stroke-width="1.6" stroke-linecap="butt"/>
<text x="510.20" y="109.30" font-family='"Liberation Sans", sans-serif' font-size="10.6" font-weight="bold" text-anchor="middle" fill="#141414">4</text>
<text x="298.90" y="94.00" font-family='"Liberation Sans", sans-serif' font-size="10.5" font-weight="bold" text-anchor="middle" fill="#141414" transform="rotate(-90 298.90 94.00)">SD from mean</text>
<text x="411.30" y="176.00" font-family='"Liberation Serif", serif' font-size="14" font-weight="normal" text-anchor="middle" fill="#141414">Δ</text>
<line x1="339.30" y1="24.40" x2="354.60" y2="24.40" stroke="#3030b0" stroke-width="1.7" stroke-linecap="butt"/>
<text x="361.20" y="27.90" font-family='"Liberation Sans", sans-serif' font-size="10.7" font-weight="normal" text-anchor="start" fill="#141414">FOXA2</text>
<line x1="426.60" y1="24.40" x2="441.60" y2="24.40" stroke="#e2813e" stroke-width="1.7" stroke-linecap="butt"/>
<text x="448.40" y="27.90" font-family='"Liberation Sans", sans-serif' font-size="10.7" font-weight="normal" text-anchor="start" fill="#141414">VCAN</text>
<text x="0.00" y="192.00" font-family='"Liberation Sans", sans-serif' font-size="16" font-weight="bold" text-anchor="start" fill="#141414">B</text>
<path d="M121.0 290.0h1.6v1.6h-1.6zM126.9 294.0h1.6v1.6h-1.6zM109.0 287.8h1.6v1.6h-1.6zM143.8 269.7h1.6v1.6h-1.6zM146.9 282.0h1.6v1.6h-1.6zM146.6 229.2h1.6v1.6h-1.6zM147.9 289.8h1.6v1.6h-1.6zM121.0 279.5h1.6v1.6h-1.6zM127.3 276.0h1.6v1.6h-1.6zM131.7 286.5h1.6v1.6h-1.6zM138.9 277.5h1.6v1.6h-1.6zM142.5 284.1h1.6v1.6h-1.6zM128.2 240.7h1.6v1.6h-1.6zM115.6 247.7h1.6v1.6h-1.6zM103.0 219.5h1.6v1.6h-1.6zM120.0 272.9h1.6v1.6h-1.6zM125.5 293.9h1.6v1.6h-1.6zM128.2 285.3h1.6v1.6h-1.6zM125.2 280.1h1.6v1.6h-1.6zM83.4 273.6h1.6v1.6h-1.6zM75.3 275.9h1.6v1.6h-1.6zM65.0 274.2h1.6v1.6h-1.6zM65.0 274.3h1.6v1.6h-1.6zM65.0 201.7h1.6v1.6h-1.6zM65.0 268.8h1.6v1.6h-1.6zM84.3 263.6h1.6v1.6h-1.6zM103.0 270.3h1.6v1.6h-1.6zM112.0 285.6h1.6v1.6h-1.6zM140.2 284.2h1.6v1.6h-1.6zM143.3 260.4h1.6v1.6h-1.6zM146.6 266.8h1.6v1.6h-1.6zM99.6 285.4h1.6v1.6h-1.6zM105.4 276.2h1.6v1.6h-1.6zM112.9 275.9h1.6v1.6h-1.6zM115.6 248.8h1.6v1.6h-1.6zM119.2 288.5h1.6v1.6h-1.6zM121.6 266.1h1.6v1.6h-1.6zM122.8 266.0h1.6v1.6h-1.6zM131.7 260.5h1.6v1.6h-1.6zM130.9 292.8h1.6v1.6h-1.6zM150.2 252.3h1.6v1.6h-1.6zM65.0 255.3h1.6v1.6h-1.6zM65.0 255.0h1.6v1.6h-1.6zM65.0 261.0h1.6v1.6h-1.6zM75.7 266.0h1.6v1.6h-1.6zM91.1 266.3h1.6v1.6h-1.6zM90.2 287.7h1.6v1.6h-1.6zM98.3 274.4h1.6v1.6h-1.6zM100.0 278.2h1.6v1.6h-1.6zM105.4 301.8h1.6v1.6h-1.6zM114.7 266.4h1.6v1.6h-1.6zM116.6 260.7h1.6v1.6h-1.6zM119.2 272.8h1.6v1.6h-1.6zM121.0 236.3h1.6v1.6h-1.6zM122.3 257.7h1.6v1.6h-1.6zM119.7 272.8h1.6v1.6h-1.6zM128.7 272.7h1.6v1.6h-1.6zM128.7 273.0h1.6v1.6h-1.6zM132.6 272.2h1.6v1.6h-1.6zM133.2 281.5h1.6v1.6h-1.6zM132.3 281.8h1.6v1.6h-1.6zM136.2 217.5h1.6v1.6h-1.6zM137.2 267.8h1.6v1.6h-1.6zM140.7 283.3h1.6v1.6h-1.6zM144.6 289.3h1.6v1.6h-1.6zM149.2 282.1h1.6v1.6h-1.6zM141.9 270.8h1.6v1.6h-1.6zM147.9 260.0h1.6v1.6h-1.6zM156.4 276.0h1.6v1.6h-1.6zM154.6 279.3h1.6v1.6h-1.6zM170.7 260.2h1.6v1.6h-1.6zM159.1 279.0h1.6v1.6h-1.6zM162.7 284.4h1.6v1.6h-1.6zM177.0 245.4h1.6v1.6h-1.6zM180.6 242.5h1.6v1.6h-1.6zM179.7 262.6h1.6v1.6h-1.6zM191.3 258.3h1.6v1.6h-1.6zM202.0 282.7h1.6v1.6h-1.6zM151.9 251.0h1.6v1.6h-1.6zM155.4 288.6h1.6v1.6h-1.6zM160.0 280.9h1.6v1.6h-1.6zM160.8 269.7h1.6v1.6h-1.6zM163.6 279.6h1.6v1.6h-1.6zM166.3 291.2h1.6v1.6h-1.6zM168.0 233.1h1.6v1.6h-1.6zM171.6 273.3h1.6v1.6h-1.6zM174.3 233.3h1.6v1.6h-1.6zM176.1 267.0h1.6v1.6h-1.6zM182.3 286.3h1.6v1.6h-1.6zM185.0 279.8h1.6v1.6h-1.6zM188.6 273.2h1.6v1.6h-1.6zM190.4 277.8h1.6v1.6h-1.6zM194.0 252.8h1.6v1.6h-1.6zM198.5 262.9h1.6v1.6h-1.6zM155.4 300.3h1.6v1.6h-1.6zM158.1 262.8h1.6v1.6h-1.6zM154.6 267.9h1.6v1.6h-1.6zM161.7 242.2h1.6v1.6h-1.6zM162.7 271.6h1.6v1.6h-1.6zM164.4 267.8h1.6v1.6h-1.6zM167.1 268.6h1.6v1.6h-1.6zM172.4 266.7h1.6v1.6h-1.6zM176.1 273.2h1.6v1.6h-1.6zM182.3 268.7h1.6v1.6h-1.6zM187.7 283.6h1.6v1.6h-1.6zM181.4 220.8h1.6v1.6h-1.6zM152.8 247.9h1.6v1.6h-1.6zM161.7 270.1h1.6v1.6h-1.6zM168.0 287.6h1.6v1.6h-1.6zM174.3 281.7h1.6v1.6h-1.6zM178.7 251.3h1.6v1.6h-1.6zM185.9 275.7h1.6v1.6h-1.6zM155.4 245.6h1.6v1.6h-1.6zM161.7 263.7h1.6v1.6h-1.6zM162.7 271.8h1.6v1.6h-1.6zM168.0 279.1h1.6v1.6h-1.6zM177.0 288.6h1.6v1.6h-1.6zM187.7 275.6h1.6v1.6h-1.6zM196.7 258.4h1.6v1.6h-1.6zM202.9 268.8h1.6v1.6h-1.6zM205.6 265.7h1.6v1.6h-1.6zM208.3 274.8h1.6v1.6h-1.6zM216.3 267.6h1.6v1.6h-1.6zM219.9 274.3h1.6v1.6h-1.6zM153.7 254.9h1.6v1.6h-1.6zM162.7 254.5h1.6v1.6h-1.6zM172.4 250.7h1.6v1.6h-1.6zM181.4 288.1h1.6v1.6h-1.6zM184.1 287.4h1.6v1.6h-1.6zM191.3 284.4h1.6v1.6h-1.6zM206.6 277.1h1.6v1.6h-1.6zM230.7 257.6h1.6v1.6h-1.6zM155.4 295.0h1.6v1.6h-1.6zM171.6 281.8h1.6v1.6h-1.6zM151.9 267.1h1.6v1.6h-1.6zM155.4 274.0h1.6v1.6h-1.6zM160.0 296.5h1.6v1.6h-1.6zM166.3 271.6h1.6v1.6h-1.6zM174.3 269.6h1.6v1.6h-1.6zM177.9 276.2h1.6v1.6h-1.6zM181.4 230.8h1.6v1.6h-1.6zM185.9 281.4h1.6v1.6h-1.6zM193.1 271.4h1.6v1.6h-1.6zM198.5 262.9h1.6v1.6h-1.6zM199.3 276.7h1.6v1.6h-1.6zM151.9 246.3h1.6v1.6h-1.6zM158.1 262.2h1.6v1.6h-1.6zM174.3 265.7h1.6v1.6h-1.6zM180.6 277.1h1.6v1.6h-1.6zM192.2 280.7h1.6v1.6h-1.6zM167.1 275.7h1.6v1.6h-1.6zM172.4 273.1h1.6v1.6h-1.6zM179.7 262.0h1.6v1.6h-1.6zM185.0 275.3h1.6v1.6h-1.6zM187.7 295.5h1.6v1.6h-1.6zM195.7 275.0h1.6v1.6h-1.6zM206.6 276.1h1.6v1.6h-1.6zM210.2 299.6h1.6v1.6h-1.6zM215.5 272.7h1.6v1.6h-1.6zM219.0 294.6h1.6v1.6h-1.6zM153.7 286.1h1.6v1.6h-1.6zM159.1 275.3h1.6v1.6h-1.6zM163.6 286.2h1.6v1.6h-1.6zM167.1 260.9h1.6v1.6h-1.6zM171.6 270.6h1.6v1.6h-1.6zM176.1 258.9h1.6v1.6h-1.6zM180.6 295.6h1.6v1.6h-1.6zM185.9 271.9h1.6v1.6h-1.6zM190.4 276.1h1.6v1.6h-1.6zM166.3 285.6h1.6v1.6h-1.6zM174.3 273.8h1.6v1.6h-1.6zM178.7 272.3h1.6v1.6h-1.6zM185.0 269.5h1.6v1.6h-1.6zM187.7 279.7h1.6v1.6h-1.6zM194.9 281.2h1.6v1.6h-1.6zM202.9 258.8h1.6v1.6h-1.6zM216.3 277.9h1.6v1.6h-1.6zM151.9 269.8h1.6v1.6h-1.6zM161.7 253.8h1.6v1.6h-1.6zM165.3 262.9h1.6v1.6h-1.6zM170.7 285.3h1.6v1.6h-1.6zM176.1 280.3h1.6v1.6h-1.6zM181.4 257.9h1.6v1.6h-1.6zM154.6 278.9h1.6v1.6h-1.6zM160.8 247.3h1.6v1.6h-1.6zM177.0 245.7h1.6v1.6h-1.6zM180.6 271.9h1.6v1.6h-1.6zM183.3 270.6h1.6v1.6h-1.6zM184.1 270.2h1.6v1.6h-1.6zM202.0 275.3h1.6v1.6h-1.6zM228.0 267.8h1.6v1.6h-1.6zM155.1 282.0h1.6v1.6h-1.6zM161.7 274.0h1.6v1.6h-1.6zM196.7 281.2h1.6v1.6h-1.6zM206.6 261.3h1.6v1.6h-1.6zM167.1 267.5h1.6v1.6h-1.6zM180.6 268.7h1.6v1.6h-1.6zM197.6 285.6h1.6v1.6h-1.6zM211.9 261.1h1.6v1.6h-1.6zM172.4 255.2h1.6v1.6h-1.6zM207.4 239.2h1.6v1.6h-1.6zM187.7 287.3h1.6v1.6h-1.6zM219.5 276.1h1.6v1.6h-1.6zM200.0 284.7h1.6v1.6h-1.6zM173.1 251.3h1.6v1.6h-1.6zM179.6 271.1h1.6v1.6h-1.6zM205.2 261.8h1.6v1.6h-1.6zM175.6 274.3h1.6v1.6h-1.6zM156.9 256.5h1.6v1.6h-1.6zM147.0 254.6h1.6v1.6h-1.6zM194.6 265.2h1.6v1.6h-1.6zM157.3 270.6h1.6v1.6h-1.6zM172.2 276.8h1.6v1.6h-1.6zM186.8 264.7h1.6v1.6h-1.6zM171.5 277.1h1.6v1.6h-1.6zM145.5 269.9h1.6v1.6h-1.6zM151.9 275.5h1.6v1.6h-1.6zM189.4 294.2h1.6v1.6h-1.6zM167.4 275.8h1.6v1.6h-1.6zM169.6 285.5h1.6v1.6h-1.6zM182.0 271.0h1.6v1.6h-1.6zM147.9 277.4h1.6v1.6h-1.6zM176.8 276.8h1.6v1.6h-1.6zM176.9 260.0h1.6v1.6h-1.6zM157.5 282.3h1.6v1.6h-1.6zM192.1 286.2h1.6v1.6h-1.6zM185.0 269.1h1.6v1.6h-1.6zM194.0 297.4h1.6v1.6h-1.6zM150.8 286.4h1.6v1.6h-1.6zM165.6 275.6h1.6v1.6h-1.6zM185.6 267.8h1.6v1.6h-1.6zM199.8 280.4h1.6v1.6h-1.6zM184.4 205.4h1.6v1.6h-1.6zM162.7 277.2h1.6v1.6h-1.6zM176.1 255.5h1.6v1.6h-1.6zM179.3 269.5h1.6v1.6h-1.6zM185.2 265.7h1.6v1.6h-1.6zM155.9 273.6h1.6v1.6h-1.6zM167.9 270.9h1.6v1.6h-1.6zM179.7 290.1h1.6v1.6h-1.6zM174.0 240.6h1.6v1.6h-1.6zM166.1 259.2h1.6v1.6h-1.6zM174.6 269.5h1.6v1.6h-1.6zM149.2 269.6h1.6v1.6h-1.6zM171.1 277.4h1.6v1.6h-1.6zM193.8 270.0h1.6v1.6h-1.6zM200.9 273.2h1.6v1.6h-1.6zM181.3 265.4h1.6v1.6h-1.6zM163.8 284.6h1.6v1.6h-1.6zM185.9 262.7h1.6v1.6h-1.6zM182.9 270.0h1.6v1.6h-1.6zM179.7 288.5h1.6v1.6h-1.6zM172.6 276.3h1.6v1.6h-1.6zM202.5 276.3h1.6v1.6h-1.6zM202.2 270.5h1.6v1.6h-1.6zM183.8 274.1h1.6v1.6h-1.6zM150.3 278.8h1.6v1.6h-1.6zM195.5 275.3h1.6v1.6h-1.6zM161.3 275.8h1.6v1.6h-1.6zM166.3 272.7h1.6v1.6h-1.6zM180.2 274.2h1.6v1.6h-1.6zM177.5 271.9h1.6v1.6h-1.6zM145.5 266.0h1.6v1.6h-1.6zM167.6 284.1h1.6v1.6h-1.6zM152.8 254.3h1.6v1.6h-1.6zM163.0 284.2h1.6v1.6h-1.6zM156.7 225.0h1.6v1.6h-1.6zM152.5 280.2h1.6v1.6h-1.6zM189.5 238.2h1.6v1.6h-1.6zM185.4 283.2h1.6v1.6h-1.6zM185.9 269.3h1.6v1.6h-1.6zM188.9 260.3h1.6v1.6h-1.6z" fill="#dc8a52" fill-opacity="0.85"/>
<path d="M121.0 279.3h1.6v1.6h-1.6zM126.9 284.1h1.6v1.6h-1.6zM109.0 274.2h1.6v1.6h-1.6zM143.8 286.5h1.6v1.6h-1.6zM146.9 291.0h1.6v1.6h-1.6zM146.6 287.2h1.6v1.6h-1.6zM147.9 282.1h1.6v1.6h-1.6zM121.0 307.5h1.6v1.6h-1.6zM127.3 283.5h1.6v1.6h-1.6zM131.7 254.8h1.6v1.6h-1.6zM138.9 267.4h1.6v1.6h-1.6zM142.5 275.4h1.6v1.6h-1.6zM126.3 288.3h1.6v1.6h-1.6zM128.2 272.7h1.6v1.6h-1.6zM115.6 298.2h1.6v1.6h-1.6zM103.0 266.8h1.6v1.6h-1.6zM120.0 281.1h1.6v1.6h-1.6zM125.5 274.8h1.6v1.6h-1.6zM128.2 294.6h1.6v1.6h-1.6zM125.2 284.6h1.6v1.6h-1.6zM83.4 275.7h1.6v1.6h-1.6zM75.3 230.1h1.6v1.6h-1.6zM65.0 280.9h1.6v1.6h-1.6zM65.0 264.5h1.6v1.6h-1.6zM65.0 276.6h1.6v1.6h-1.6zM65.0 247.0h1.6v1.6h-1.6zM84.3 281.7h1.6v1.6h-1.6zM103.0 284.4h1.6v1.6h-1.6zM112.0 267.0h1.6v1.6h-1.6zM140.2 276.8h1.6v1.6h-1.6zM143.3 286.4h1.6v1.6h-1.6zM146.6 297.7h1.6v1.6h-1.6zM99.6 267.5h1.6v1.6h-1.6zM105.4 267.8h1.6v1.6h-1.6zM112.9 290.9h1.6v1.6h-1.6zM115.6 294.7h1.6v1.6h-1.6zM119.2 283.9h1.6v1.6h-1.6zM121.6 268.2h1.6v1.6h-1.6zM122.8 272.5h1.6v1.6h-1.6zM131.7 266.4h1.6v1.6h-1.6zM130.9 266.0h1.6v1.6h-1.6zM150.2 286.0h1.6v1.6h-1.6zM65.0 267.9h1.6v1.6h-1.6zM65.0 284.0h1.6v1.6h-1.6zM65.0 278.6h1.6v1.6h-1.6zM75.7 260.6h1.6v1.6h-1.6zM91.1 275.4h1.6v1.6h-1.6zM90.2 297.5h1.6v1.6h-1.6zM98.3 259.4h1.6v1.6h-1.6zM100.0 275.2h1.6v1.6h-1.6zM105.4 284.9h1.6v1.6h-1.6zM114.7 273.4h1.6v1.6h-1.6zM116.6 289.1h1.6v1.6h-1.6zM119.2 279.7h1.6v1.6h-1.6zM121.0 269.8h1.6v1.6h-1.6zM122.3 282.4h1.6v1.6h-1.6zM119.7 274.2h1.6v1.6h-1.6zM128.7 291.2h1.6v1.6h-1.6zM128.7 289.1h1.6v1.6h-1.6zM132.6 279.2h1.6v1.6h-1.6zM133.2 293.5h1.6v1.6h-1.6zM132.3 296.1h1.6v1.6h-1.6zM136.2 306.9h1.6v1.6h-1.6zM137.2 285.8h1.6v1.6h-1.6zM140.7 295.2h1.6v1.6h-1.6zM144.6 293.2h1.6v1.6h-1.6zM149.2 276.7h1.6v1.6h-1.6zM141.9 292.1h1.6v1.6h-1.6zM147.9 291.2h1.6v1.6h-1.6zM156.4 283.7h1.6v1.6h-1.6zM154.6 276.8h1.6v1.6h-1.6zM170.7 250.6h1.6v1.6h-1.6zM159.1 276.8h1.6v1.6h-1.6zM162.7 289.8h1.6v1.6h-1.6zM169.8 266.5h1.6v1.6h-1.6zM177.0 295.0h1.6v1.6h-1.6zM180.6 271.7h1.6v1.6h-1.6zM179.7 277.7h1.6v1.6h-1.6zM191.3 287.1h1.6v1.6h-1.6zM202.0 304.9h1.6v1.6h-1.6zM151.9 276.0h1.6v1.6h-1.6zM155.4 267.3h1.6v1.6h-1.6zM160.0 278.6h1.6v1.6h-1.6zM160.8 292.3h1.6v1.6h-1.6zM163.6 297.6h1.6v1.6h-1.6zM166.3 284.9h1.6v1.6h-1.6zM168.0 274.9h1.6v1.6h-1.6zM171.6 277.8h1.6v1.6h-1.6zM174.3 284.4h1.6v1.6h-1.6zM176.1 284.2h1.6v1.6h-1.6zM182.3 310.3h1.6v1.6h-1.6zM185.0 277.2h1.6v1.6h-1.6zM188.6 276.8h1.6v1.6h-1.6zM190.4 287.3h1.6v1.6h-1.6zM194.0 291.7h1.6v1.6h-1.6zM198.5 296.2h1.6v1.6h-1.6zM155.4 281.7h1.6v1.6h-1.6zM158.1 303.3h1.6v1.6h-1.6zM154.6 279.0h1.6v1.6h-1.6zM161.7 291.1h1.6v1.6h-1.6zM162.7 287.6h1.6v1.6h-1.6zM164.4 287.0h1.6v1.6h-1.6zM167.1 281.1h1.6v1.6h-1.6zM172.4 282.3h1.6v1.6h-1.6zM176.1 291.2h1.6v1.6h-1.6zM182.3 237.4h1.6v1.6h-1.6zM187.7 289.3h1.6v1.6h-1.6zM181.4 293.6h1.6v1.6h-1.6zM152.8 284.6h1.6v1.6h-1.6zM161.7 281.9h1.6v1.6h-1.6zM168.0 299.7h1.6v1.6h-1.6zM174.3 307.6h1.6v1.6h-1.6zM178.7 280.4h1.6v1.6h-1.6zM185.9 294.9h1.6v1.6h-1.6zM155.4 296.5h1.6v1.6h-1.6zM161.7 286.8h1.6v1.6h-1.6zM162.7 293.1h1.6v1.6h-1.6zM168.0 286.8h1.6v1.6h-1.6zM177.0 282.6h1.6v1.6h-1.6zM187.7 288.9h1.6v1.6h-1.6zM196.7 314.6h1.6v1.6h-1.6zM202.9 302.3h1.6v1.6h-1.6zM205.6 289.5h1.6v1.6h-1.6zM208.3 292.9h1.6v1.6h-1.6zM216.3 294.5h1.6v1.6h-1.6zM219.9 298.9h1.6v1.6h-1.6zM153.7 306.8h1.6v1.6h-1.6zM162.7 271.1h1.6v1.6h-1.6zM172.4 285.1h1.6v1.6h-1.6zM181.4 267.2h1.6v1.6h-1.6zM184.1 284.4h1.6v1.6h-1.6zM191.3 290.2h1.6v1.6h-1.6zM206.6 237.6h1.6v1.6h-1.6zM230.7 268.8h1.6v1.6h-1.6zM155.4 243.3h1.6v1.6h-1.6zM171.6 288.9h1.6v1.6h-1.6zM151.9 288.0h1.6v1.6h-1.6zM155.4 287.8h1.6v1.6h-1.6zM160.0 292.4h1.6v1.6h-1.6zM166.3 282.0h1.6v1.6h-1.6zM174.3 291.4h1.6v1.6h-1.6zM177.9 301.5h1.6v1.6h-1.6zM181.4 276.6h1.6v1.6h-1.6zM185.9 296.7h1.6v1.6h-1.6zM193.1 299.8h1.6v1.6h-1.6zM198.5 301.3h1.6v1.6h-1.6zM199.3 295.9h1.6v1.6h-1.6zM151.9 296.7h1.6v1.6h-1.6zM158.1 289.1h1.6v1.6h-1.6zM174.3 279.0h1.6v1.6h-1.6zM180.6 291.4h1.6v1.6h-1.6zM189.6 303.4h1.6v1.6h-1.6zM192.2 297.0h1.6v1.6h-1.6zM167.1 301.6h1.6v1.6h-1.6zM172.4 290.4h1.6v1.6h-1.6zM179.7 290.5h1.6v1.6h-1.6zM185.0 278.0h1.6v1.6h-1.6zM187.7 256.5h1.6v1.6h-1.6zM195.7 294.7h1.6v1.6h-1.6zM206.6 251.5h1.6v1.6h-1.6zM210.2 311.1h1.6v1.6h-1.6zM215.5 303.3h1.6v1.6h-1.6zM219.0 288.4h1.6v1.6h-1.6zM153.7 313.8h1.6v1.6h-1.6zM159.1 276.0h1.6v1.6h-1.6zM163.6 296.2h1.6v1.6h-1.6zM167.1 289.9h1.6v1.6h-1.6zM171.6 250.9h1.6v1.6h-1.6zM176.1 288.6h1.6v1.6h-1.6zM180.6 292.7h1.6v1.6h-1.6zM185.9 311.3h1.6v1.6h-1.6zM190.4 301.0h1.6v1.6h-1.6zM166.3 300.5h1.6v1.6h-1.6zM174.3 285.2h1.6v1.6h-1.6zM178.7 310.4h1.6v1.6h-1.6zM185.0 281.5h1.6v1.6h-1.6zM187.7 255.2h1.6v1.6h-1.6zM194.9 239.6h1.6v1.6h-1.6zM202.9 302.4h1.6v1.6h-1.6zM216.3 289.9h1.6v1.6h-1.6zM151.9 284.2h1.6v1.6h-1.6zM161.7 281.7h1.6v1.6h-1.6zM165.3 305.3h1.6v1.6h-1.6zM170.7 295.6h1.6v1.6h-1.6zM176.1 282.8h1.6v1.6h-1.6zM181.4 248.5h1.6v1.6h-1.6zM154.6 289.2h1.6v1.6h-1.6zM160.8 289.9h1.6v1.6h-1.6zM177.0 309.0h1.6v1.6h-1.6zM180.6 297.2h1.6v1.6h-1.6zM183.3 300.6h1.6v1.6h-1.6zM184.1 291.7h1.6v1.6h-1.6zM202.0 285.9h1.6v1.6h-1.6zM228.0 295.9h1.6v1.6h-1.6zM155.1 292.9h1.6v1.6h-1.6zM161.7 300.4h1.6v1.6h-1.6zM196.7 294.7h1.6v1.6h-1.6zM206.6 288.3h1.6v1.6h-1.6zM167.1 313.2h1.6v1.6h-1.6zM180.6 285.9h1.6v1.6h-1.6zM197.6 300.9h1.6v1.6h-1.6zM211.9 284.9h1.6v1.6h-1.6zM172.4 278.3h1.6v1.6h-1.6zM207.4 318.3h1.6v1.6h-1.6zM187.7 301.5h1.6v1.6h-1.6zM219.5 308.5h1.6v1.6h-1.6zM200.0 291.8h1.6v1.6h-1.6zM173.1 297.3h1.6v1.6h-1.6zM179.6 304.7h1.6v1.6h-1.6zM205.2 284.8h1.6v1.6h-1.6zM175.6 301.3h1.6v1.6h-1.6zM156.9 264.6h1.6v1.6h-1.6zM147.0 286.0h1.6v1.6h-1.6zM194.6 287.8h1.6v1.6h-1.6zM157.3 279.3h1.6v1.6h-1.6zM172.2 291.7h1.6v1.6h-1.6zM186.8 282.9h1.6v1.6h-1.6zM171.5 278.5h1.6v1.6h-1.6zM191.5 276.4h1.6v1.6h-1.6zM145.5 284.7h1.6v1.6h-1.6zM151.9 274.7h1.6v1.6h-1.6zM189.4 290.2h1.6v1.6h-1.6zM167.4 285.6h1.6v1.6h-1.6zM169.6 273.7h1.6v1.6h-1.6zM182.0 288.0h1.6v1.6h-1.6zM147.9 277.1h1.6v1.6h-1.6zM176.8 292.7h1.6v1.6h-1.6zM176.9 280.0h1.6v1.6h-1.6zM157.5 289.3h1.6v1.6h-1.6zM192.1 301.5h1.6v1.6h-1.6zM185.0 293.6h1.6v1.6h-1.6zM194.0 293.6h1.6v1.6h-1.6zM150.8 303.8h1.6v1.6h-1.6zM165.6 261.9h1.6v1.6h-1.6zM185.6 298.5h1.6v1.6h-1.6zM199.8 247.3h1.6v1.6h-1.6zM184.4 287.3h1.6v1.6h-1.6zM162.7 288.9h1.6v1.6h-1.6zM176.1 295.0h1.6v1.6h-1.6zM179.3 298.2h1.6v1.6h-1.6zM185.2 277.5h1.6v1.6h-1.6zM155.9 287.0h1.6v1.6h-1.6zM167.9 282.3h1.6v1.6h-1.6zM179.7 293.9h1.6v1.6h-1.6zM174.0 250.8h1.6v1.6h-1.6zM166.1 278.8h1.6v1.6h-1.6zM174.6 283.8h1.6v1.6h-1.6zM149.2 256.1h1.6v1.6h-1.6zM171.1 274.6h1.6v1.6h-1.6zM193.8 294.6h1.6v1.6h-1.6zM200.9 285.3h1.6v1.6h-1.6zM181.3 279.7h1.6v1.6h-1.6zM163.8 284.4h1.6v1.6h-1.6zM185.9 259.4h1.6v1.6h-1.6zM182.9 299.6h1.6v1.6h-1.6zM179.7 299.3h1.6v1.6h-1.6zM172.6 288.6h1.6v1.6h-1.6zM202.5 308.5h1.6v1.6h-1.6zM202.2 296.4h1.6v1.6h-1.6zM183.8 291.5h1.6v1.6h-1.6zM150.3 285.0h1.6v1.6h-1.6zM195.5 280.7h1.6v1.6h-1.6zM161.3 279.2h1.6v1.6h-1.6zM166.3 282.0h1.6v1.6h-1.6zM180.2 286.0h1.6v1.6h-1.6zM177.5 288.8h1.6v1.6h-1.6zM145.5 280.9h1.6v1.6h-1.6zM167.6 284.1h1.6v1.6h-1.6zM152.8 289.5h1.6v1.6h-1.6zM163.0 291.9h1.6v1.6h-1.6zM156.7 271.2h1.6v1.6h-1.6zM152.5 289.5h1.6v1.6h-1.6zM189.5 296.0h1.6v1.6h-1.6zM185.4 287.4h1.6v1.6h-1.6zM185.9 271.7h1.6v1.6h-1.6zM188.9 249.8h1.6v1.6h-1.6z" fill="#3636a0" fill-opacity="0.85"/>
<line x1="66.00" y1="276.75" x2="232.50" y2="278.00" stroke="#e2813e" stroke-width="1.7" stroke-linecap="butt"/>
<line x1="66.00" y1="272.00" x2="232.50" y2="300.00" stroke="#3030b0" stroke-width="1.7" stroke-linecap="butt"/>
<line x1="60.20" y1="199.10" x2="60.20" y2="323.60" stroke="#1b1b1b" stroke-width="1.7" stroke-linecap="butt"/>
<line x1="60.20" y1="322.80" x2="246.20" y2="322.80" stroke="#1b1b1b" stroke-width="1.7" stroke-linecap="butt"/>
<line x1="58.20" y1="319.11" x2="60.20" y2="319.11" stroke="#1b1b1b" stroke-width="1.1" stroke-linecap="butt"/>
<line x1="58.20" y1="315.52" x2="60.20" y2="315.52" stroke="#1b1b1b" stroke-width="1.1" stroke-linecap="butt"/>
<line x1="58.20" y1="312.40" x2="60.20" y2="312.40" stroke="#1b1b1b" stroke-width="1.1" stroke-linecap="butt"/>
<line x1="58.20" y1="309.66" x2="60.20" y2="309.66" stroke="#1b1b1b" stroke-width="1.1" stroke-linecap="butt"/>
<line x1="56.90" y1="307.20" x2="60.20" y2="307.20" stroke="#1b1b1b" stroke-width="1.6" stroke-linecap="butt"/>
<line x1="58.20" y1="291.03" x2="60.20" y2="291.03" stroke="#1b1b1b" stroke-width="1.1" stroke-linecap="butt"/>
<line x1="58.20" y1="281.58" x2="60.20" y2="281.58" stroke="#1b1b1b" stroke-width="1.1" stroke-linecap="butt"/>
<line x1="58.20" y1="274.87" x2="60.20" y2="274.87" stroke="#1b1b1b" stroke-width="1.1" stroke-linecap="butt"/>
<line x1="58.20" y1="269.67" x2="60.20" y2="269.67" stroke="#1b1b1b" stroke-width="1.1" stroke-linecap="butt"/>
<line x1="58.20" y1="265.41" x2="60.20" y2="265.41" stroke="#1b1b1b" stroke-width="1.1" stroke-linecap="butt"/>
<line x1="58.20" y1="261.82" x2="60.20" y2="261.82" stroke="#1b1b1b" stroke-width="1.1" stroke-linecap="butt"/>
<line x1="58.20" y1="258.70" x2="60.20" y2="258.70" stroke="#1b1b1b" stroke-width="1.1" stroke-linecap="butt"/>
<line x1="58.20" y1="255.96" x2="60.20" y2="255.96" stroke="#1b1b1b" stroke-width="1.1" stroke-linecap="butt"/>
<line x1="56.90" y1="253.50" x2="60.20" y2="253.50" stroke="#1b1b1b" stroke-width="1.6" stroke-linecap="butt"/>
<line x1="58.20" y1="237.33" x2="60.20" y2="237.33" stroke="#1b1b1b" stroke-width="1.1" stroke-linecap="butt"/>
<line x1="58.20" y1="227.88" x2="60.20" y2="227.88" stroke="#1b1b1b" stroke-width="1.1" stroke-linecap="butt"/>
<line x1="58.20" y1="221.17" x2="60.20" y2="221.17" stroke="#1b1b1b" stroke-width="1.1" stroke-linecap="butt"/>
<line x1="58.20" y1="215.97" x2="60.20" y2="215.97" stroke="#1b1b1b" stroke-width="1.1" stroke-linecap="butt"/>
<line x1="58.20" y1="211.71" x2="60.20" y2="211.71" stroke="#1b1b1b" stroke-width="1.1" stroke-linecap="butt"/>
<line x1="58.20" y1="208.12" x2="60.20" y2="208.12" stroke="#1b1b1b" stroke-width="1.1" stroke-linecap="butt"/>
<line x1="58.20" y1="205.00" x2="60.20" y2="205.00" stroke="#1b1b1b" stroke-width="1.1" stroke-linecap="butt"/>
<line x1="58.20" y1="202.26" x2="60.20" y2="202.26" stroke="#1b1b1b" stroke-width="1.1" stroke-linecap="butt"/>
<line x1="56.90" y1="199.80" x2="60.20" y2="199.80" stroke="#1b1b1b" stroke-width="1.6" stroke-linecap="butt"/>
<text x="54.50" y="203.40" font-family='"Liberation Sans", sans-serif' font-size="10" font-weight="bold" text-anchor="end" fill="#141414">1</text>
<text x="54.50" y="257.10" font-family='"Liberation Sans", sans-serif' font-size="10" font-weight="bold" text-anchor="end" fill="#141414">0.1</text>
<text x="54.50" y="310.80" font-family='"Liberation Sans", sans-serif' font-size="10" font-weight="bold" text-anchor="end" fill="#141414">0.01</text>
<line x1="95.00" y1="322.80" x2="95.00" y2="325.80" stroke="#1b1b1b" stroke-width="1.6" stroke-linecap="butt"/>
<text x="95.00" y="337.60" font-family='"Liberation Sans", sans-serif' font-size="9.8" font-weight="bold" text-anchor="middle" fill="#141414">0</text>
<line x1="153.00" y1="322.80" x2="153.00" y2="325.80" stroke="#1b1b1b" stroke-width="1.6" stroke-linecap="butt"/>
<text x="153.00" y="337.60" font-family='"Liberation Sans", sans-serif' font-size="9.8" font-weight="bold" text-anchor="middle" fill="#141414">5</text>
<line x1="210.50" y1="322.80" x2="210.50" y2="325.80" stroke="#1b1b1b" stroke-width="1.6" stroke-linecap="butt"/>
<text x="210.50" y="337.60" font-family='"Liberation Sans", sans-serif' font-size="9.8" font-weight="bold" text-anchor="middle" fill="#141414">10</text>
<text x="153.60" y="350.50" font-family='"Liberation Sans", sans-serif' font-size="10.0" font-weight="bold" text-anchor="middle" fill="#141414">FOXA2 mRNA expression</text>
<text x="30.70" y="260.70" font-family='"Liberation Sans", sans-serif' font-size="11.1" font-weight="bold" text-anchor="middle" fill="#141414" transform="rotate(-90 30.70 260.70)">Methylation (HM27)</text>
<line x1="89.50" y1="197.50" x2="102.00" y2="197.50" stroke="#3030b0" stroke-width="1.7" stroke-linecap="butt"/>
<text x="110.00" y="201.30" font-family='"Liberation Sans", sans-serif' font-size="10.5" font-weight="normal" text-anchor="start" fill="#141414">FOXA2</text>
<line x1="152.50" y1="197.50" x2="165.00" y2="197.50" stroke="#e2813e" stroke-width="1.7" stroke-linecap="butt"/>
<text x="172.50" y="201.30" font-family='"Liberation Sans", sans-serif' font-size="10.5" font-weight="normal" text-anchor="start" fill="#141414">VCAN</text>
<path d="M495.2 291.5h1.6v1.6h-1.6zM495.2 295.5h1.6v1.6h-1.6zM485.7 289.3h1.6v1.6h-1.6zM490.4 271.0h1.6v1.6h-1.6zM485.7 283.4h1.6v1.6h-1.6zM478.3 230.2h1.6v1.6h-1.6zM474.9 291.3h1.6v1.6h-1.6zM475.3 280.9h1.6v1.6h-1.6zM476.1 277.4h1.6v1.6h-1.6zM474.9 288.0h1.6v1.6h-1.6zM471.4 278.9h1.6v1.6h-1.6zM471.4 285.5h1.6v1.6h-1.6zM465.1 241.8h1.6v1.6h-1.6zM466.0 248.8h1.6v1.6h-1.6zM463.8 220.5h1.6v1.6h-1.6zM461.0 274.2h1.6v1.6h-1.6zM459.8 295.4h1.6v1.6h-1.6zM459.1 286.8h1.6v1.6h-1.6zM454.0 281.5h1.6v1.6h-1.6zM456.4 275.0h1.6v1.6h-1.6zM451.3 277.3h1.6v1.6h-1.6zM473.7 275.6h1.6v1.6h-1.6zM466.8 275.6h1.6v1.6h-1.6zM429.8 270.1h1.6v1.6h-1.6zM444.8 264.9h1.6v1.6h-1.6zM446.6 271.7h1.6v1.6h-1.6zM447.1 287.1h1.6v1.6h-1.6zM447.5 285.6h1.6v1.6h-1.6zM443.6 261.6h1.6v1.6h-1.6zM442.5 268.1h1.6v1.6h-1.6zM437.9 286.8h1.6v1.6h-1.6zM434.4 277.6h1.6v1.6h-1.6zM435.5 277.3h1.6v1.6h-1.6zM434.4 249.9h1.6v1.6h-1.6zM432.0 289.9h1.6v1.6h-1.6zM431.0 267.4h1.6v1.6h-1.6zM439.7 267.3h1.6v1.6h-1.6zM441.3 261.7h1.6v1.6h-1.6zM428.6 294.3h1.6v1.6h-1.6zM461.0 253.5h1.6v1.6h-1.6zM470.2 256.6h1.6v1.6h-1.6zM410.6 256.2h1.6v1.6h-1.6zM384.0 262.3h1.6v1.6h-1.6zM386.3 267.3h1.6v1.6h-1.6zM406.0 267.6h1.6v1.6h-1.6zM394.4 289.2h1.6v1.6h-1.6zM420.0 275.7h1.6v1.6h-1.6zM402.1 279.6h1.6v1.6h-1.6zM363.7 303.4h1.6v1.6h-1.6zM400.7 267.7h1.6v1.6h-1.6zM406.0 262.0h1.6v1.6h-1.6zM414.6 274.2h1.6v1.6h-1.6zM412.9 237.4h1.6v1.6h-1.6zM405.5 258.9h1.6v1.6h-1.6zM389.9 274.2h1.6v1.6h-1.6zM407.6 274.1h1.6v1.6h-1.6zM423.4 274.3h1.6v1.6h-1.6zM397.9 273.6h1.6v1.6h-1.6zM390.5 282.9h1.6v1.6h-1.6zM384.5 283.2h1.6v1.6h-1.6zM405.5 218.5h1.6v1.6h-1.6zM415.3 269.1h1.6v1.6h-1.6zM412.9 284.7h1.6v1.6h-1.6zM413.7 290.8h1.6v1.6h-1.6zM411.9 283.5h1.6v1.6h-1.6zM423.9 272.1h1.6v1.6h-1.6zM424.5 261.2h1.6v1.6h-1.6zM503.2 277.4h1.6v1.6h-1.6zM488.7 280.7h1.6v1.6h-1.6zM488.3 261.4h1.6v1.6h-1.6zM481.8 280.4h1.6v1.6h-1.6zM480.6 285.9h1.6v1.6h-1.6zM481.8 202.5h1.6v1.6h-1.6zM480.6 246.6h1.6v1.6h-1.6zM482.3 243.7h1.6v1.6h-1.6zM478.3 263.9h1.6v1.6h-1.6zM477.1 259.5h1.6v1.6h-1.6zM480.0 284.1h1.6v1.6h-1.6zM473.1 252.2h1.6v1.6h-1.6zM471.4 290.1h1.6v1.6h-1.6zM473.7 282.3h1.6v1.6h-1.6zM470.2 271.0h1.6v1.6h-1.6zM474.9 281.0h1.6v1.6h-1.6zM471.4 292.7h1.6v1.6h-1.6zM468.4 234.2h1.6v1.6h-1.6zM466.8 274.6h1.6v1.6h-1.6zM468.0 234.4h1.6v1.6h-1.6zM473.7 268.3h1.6v1.6h-1.6zM473.7 287.8h1.6v1.6h-1.6zM470.2 281.2h1.6v1.6h-1.6zM471.4 274.6h1.6v1.6h-1.6zM469.0 279.2h1.6v1.6h-1.6zM464.5 254.0h1.6v1.6h-1.6zM465.6 264.2h1.6v1.6h-1.6zM466.8 301.8h1.6v1.6h-1.6zM464.5 264.0h1.6v1.6h-1.6zM458.6 269.2h1.6v1.6h-1.6zM461.0 243.3h1.6v1.6h-1.6zM457.6 272.9h1.6v1.6h-1.6zM459.1 269.2h1.6v1.6h-1.6zM456.4 269.9h1.6v1.6h-1.6zM457.6 268.0h1.6v1.6h-1.6zM456.4 274.5h1.6v1.6h-1.6zM462.9 270.0h1.6v1.6h-1.6zM461.0 285.0h1.6v1.6h-1.6zM457.6 221.7h1.6v1.6h-1.6zM454.0 249.0h1.6v1.6h-1.6zM454.0 271.4h1.6v1.6h-1.6zM451.7 289.1h1.6v1.6h-1.6zM451.7 283.1h1.6v1.6h-1.6zM448.3 252.5h1.6v1.6h-1.6zM451.7 277.0h1.6v1.6h-1.6zM448.3 246.8h1.6v1.6h-1.6zM447.1 265.0h1.6v1.6h-1.6zM443.6 273.1h1.6v1.6h-1.6zM446.0 280.5h1.6v1.6h-1.6zM442.5 290.1h1.6v1.6h-1.6zM440.6 277.0h1.6v1.6h-1.6zM441.9 259.7h1.6v1.6h-1.6zM440.1 270.1h1.6v1.6h-1.6zM443.6 267.0h1.6v1.6h-1.6zM436.7 276.1h1.6v1.6h-1.6zM442.5 268.9h1.6v1.6h-1.6zM436.7 275.6h1.6v1.6h-1.6zM436.7 256.1h1.6v1.6h-1.6zM436.7 255.7h1.6v1.6h-1.6zM437.9 251.9h1.6v1.6h-1.6zM436.7 289.5h1.6v1.6h-1.6zM431.0 288.9h1.6v1.6h-1.6zM429.8 285.9h1.6v1.6h-1.6zM429.8 278.5h1.6v1.6h-1.6zM428.6 258.8h1.6v1.6h-1.6zM428.6 296.5h1.6v1.6h-1.6zM428.6 283.2h1.6v1.6h-1.6zM422.2 268.4h1.6v1.6h-1.6zM419.2 275.3h1.6v1.6h-1.6zM417.6 298.0h1.6v1.6h-1.6zM418.8 272.9h1.6v1.6h-1.6zM421.0 270.9h1.6v1.6h-1.6zM422.2 277.6h1.6v1.6h-1.6zM423.0 231.8h1.6v1.6h-1.6zM421.0 282.8h1.6v1.6h-1.6zM420.0 272.7h1.6v1.6h-1.6zM421.0 264.2h1.6v1.6h-1.6zM414.6 278.1h1.6v1.6h-1.6zM415.3 247.4h1.6v1.6h-1.6zM412.9 263.4h1.6v1.6h-1.6zM415.3 267.0h1.6v1.6h-1.6zM415.3 278.5h1.6v1.6h-1.6zM411.9 282.1h1.6v1.6h-1.6zM409.4 277.1h1.6v1.6h-1.6zM410.6 274.4h1.6v1.6h-1.6zM409.4 263.2h1.6v1.6h-1.6zM409.9 276.6h1.6v1.6h-1.6zM407.2 297.0h1.6v1.6h-1.6zM405.4 276.4h1.6v1.6h-1.6zM408.4 277.5h1.6v1.6h-1.6zM410.6 301.1h1.6v1.6h-1.6zM412.9 274.1h1.6v1.6h-1.6zM407.2 296.1h1.6v1.6h-1.6zM402.5 287.6h1.6v1.6h-1.6zM400.7 276.7h1.6v1.6h-1.6zM402.5 287.6h1.6v1.6h-1.6zM404.3 262.2h1.6v1.6h-1.6zM401.3 272.0h1.6v1.6h-1.6zM401.3 260.2h1.6v1.6h-1.6zM403.7 297.1h1.6v1.6h-1.6zM402.5 273.2h1.6v1.6h-1.6zM401.3 277.5h1.6v1.6h-1.6zM396.8 287.1h1.6v1.6h-1.6zM397.9 275.2h1.6v1.6h-1.6zM394.4 273.7h1.6v1.6h-1.6zM395.6 270.8h1.6v1.6h-1.6zM397.9 281.1h1.6v1.6h-1.6zM397.9 282.6h1.6v1.6h-1.6zM399.1 260.1h1.6v1.6h-1.6zM396.8 279.3h1.6v1.6h-1.6zM389.9 271.1h1.6v1.6h-1.6zM390.9 255.0h1.6v1.6h-1.6zM389.9 264.1h1.6v1.6h-1.6zM388.7 286.8h1.6v1.6h-1.6zM392.1 281.7h1.6v1.6h-1.6zM389.9 259.2h1.6v1.6h-1.6zM384.0 280.3h1.6v1.6h-1.6zM385.2 248.4h1.6v1.6h-1.6zM382.8 246.8h1.6v1.6h-1.6zM379.4 273.3h1.6v1.6h-1.6zM375.9 271.9h1.6v1.6h-1.6zM371.2 271.5h1.6v1.6h-1.6zM379.4 276.6h1.6v1.6h-1.6zM383.3 269.1h1.6v1.6h-1.6zM375.9 283.4h1.6v1.6h-1.6zM374.2 275.3h1.6v1.6h-1.6zM370.2 282.6h1.6v1.6h-1.6zM367.8 262.6h1.6v1.6h-1.6zM365.1 268.8h1.6v1.6h-1.6zM364.3 270.0h1.6v1.6h-1.6zM364.3 287.0h1.6v1.6h-1.6zM363.7 262.3h1.6v1.6h-1.6zM358.1 256.4h1.6v1.6h-1.6zM356.2 240.3h1.6v1.6h-1.6zM335.9 288.7h1.6v1.6h-1.6zM439.4 277.5h1.6v1.6h-1.6zM447.5 286.1h1.6v1.6h-1.6zM400.4 252.5h1.6v1.6h-1.6zM415.9 272.4h1.6v1.6h-1.6zM441.5 263.1h1.6v1.6h-1.6zM479.9 275.6h1.6v1.6h-1.6zM433.9 257.8h1.6v1.6h-1.6zM414.0 255.8h1.6v1.6h-1.6zM446.2 266.5h1.6v1.6h-1.6zM475.2 271.9h1.6v1.6h-1.6zM487.4 278.2h1.6v1.6h-1.6zM472.8 266.0h1.6v1.6h-1.6zM453.7 278.5h1.6v1.6h-1.6zM489.3 271.3h1.6v1.6h-1.6zM456.0 276.9h1.6v1.6h-1.6zM396.4 295.7h1.6v1.6h-1.6zM401.2 277.2h1.6v1.6h-1.6zM489.0 286.9h1.6v1.6h-1.6zM485.3 272.3h1.6v1.6h-1.6zM475.0 278.8h1.6v1.6h-1.6zM474.2 278.2h1.6v1.6h-1.6zM452.2 261.2h1.6v1.6h-1.6zM482.8 283.7h1.6v1.6h-1.6zM410.3 287.7h1.6v1.6h-1.6zM462.5 270.4h1.6v1.6h-1.6zM472.7 298.9h1.6v1.6h-1.6zM475.9 287.8h1.6v1.6h-1.6zM473.6 277.0h1.6v1.6h-1.6zM425.3 269.1h1.6v1.6h-1.6zM478.2 281.8h1.6v1.6h-1.6zM450.5 206.3h1.6v1.6h-1.6zM472.2 278.6h1.6v1.6h-1.6zM414.9 256.8h1.6v1.6h-1.6zM462.2 270.8h1.6v1.6h-1.6zM422.4 267.0h1.6v1.6h-1.6zM468.6 275.0h1.6v1.6h-1.6zM405.8 272.3h1.6v1.6h-1.6zM447.5 291.6h1.6v1.6h-1.6zM421.5 241.7h1.6v1.6h-1.6zM448.7 260.4h1.6v1.6h-1.6zM421.7 270.9h1.6v1.6h-1.6zM386.4 270.9h1.6v1.6h-1.6zM460.2 278.8h1.6v1.6h-1.6zM466.7 271.4h1.6v1.6h-1.6zM415.5 274.6h1.6v1.6h-1.6zM451.7 266.7h1.6v1.6h-1.6zM443.1 286.0h1.6v1.6h-1.6zM431.6 264.0h1.6v1.6h-1.6zM407.4 271.3h1.6v1.6h-1.6zM391.7 290.0h1.6v1.6h-1.6zM475.9 277.6h1.6v1.6h-1.6zM475.2 277.7h1.6v1.6h-1.6zM400.0 271.9h1.6v1.6h-1.6zM474.9 275.4h1.6v1.6h-1.6zM473.3 280.2h1.6v1.6h-1.6zM463.6 276.6h1.6v1.6h-1.6zM453.7 277.2h1.6v1.6h-1.6zM475.8 274.0h1.6v1.6h-1.6zM467.7 275.5h1.6v1.6h-1.6zM422.7 273.2h1.6v1.6h-1.6zM474.3 267.3h1.6v1.6h-1.6zM456.6 285.6h1.6v1.6h-1.6zM414.7 255.5h1.6v1.6h-1.6zM443.3 285.6h1.6v1.6h-1.6zM480.8 226.0h1.6v1.6h-1.6zM415.5 281.6h1.6v1.6h-1.6zM402.9 239.2h1.6v1.6h-1.6zM456.5 284.6h1.6v1.6h-1.6zM386.4 270.7h1.6v1.6h-1.6zM401.7 261.6h1.6v1.6h-1.6z" fill="#dc8a52" fill-opacity="0.85"/>
<path d="M495.2 280.8h1.6v1.6h-1.6zM495.2 284.5h1.6v1.6h-1.6zM485.7 279.0h1.6v1.6h-1.6zM490.4 284.6h1.6v1.6h-1.6zM485.7 289.0h1.6v1.6h-1.6zM478.3 286.3h1.6v1.6h-1.6zM474.9 281.6h1.6v1.6h-1.6zM475.3 310.2h1.6v1.6h-1.6zM476.1 286.1h1.6v1.6h-1.6zM474.9 258.1h1.6v1.6h-1.6zM471.4 269.4h1.6v1.6h-1.6zM471.4 276.5h1.6v1.6h-1.6zM468.0 291.9h1.6v1.6h-1.6zM465.1 276.9h1.6v1.6h-1.6zM466.0 303.3h1.6v1.6h-1.6zM463.8 275.5h1.6v1.6h-1.6zM461.0 286.8h1.6v1.6h-1.6zM459.8 280.1h1.6v1.6h-1.6zM459.1 298.6h1.6v1.6h-1.6zM454.0 290.2h1.6v1.6h-1.6zM456.4 288.1h1.6v1.6h-1.6zM451.3 246.4h1.6v1.6h-1.6zM473.7 294.0h1.6v1.6h-1.6zM466.8 279.1h1.6v1.6h-1.6zM435.5 294.4h1.6v1.6h-1.6zM429.8 266.8h1.6v1.6h-1.6zM444.8 295.1h1.6v1.6h-1.6zM446.6 294.4h1.6v1.6h-1.6zM447.1 276.3h1.6v1.6h-1.6zM447.5 281.1h1.6v1.6h-1.6zM443.6 290.2h1.6v1.6h-1.6zM442.5 300.6h1.6v1.6h-1.6zM437.9 279.8h1.6v1.6h-1.6zM434.4 279.6h1.6v1.6h-1.6zM435.5 300.4h1.6v1.6h-1.6zM434.4 303.7h1.6v1.6h-1.6zM432.0 293.1h1.6v1.6h-1.6zM431.0 277.9h1.6v1.6h-1.6zM439.7 280.6h1.6v1.6h-1.6zM441.3 273.3h1.6v1.6h-1.6zM428.6 274.5h1.6v1.6h-1.6zM461.0 286.6h1.6v1.6h-1.6zM470.2 281.9h1.6v1.6h-1.6zM410.6 304.4h1.6v1.6h-1.6zM384.0 302.5h1.6v1.6h-1.6zM386.3 283.2h1.6v1.6h-1.6zM406.0 292.6h1.6v1.6h-1.6zM394.4 315.3h1.6v1.6h-1.6zM420.0 274.5h1.6v1.6h-1.6zM402.1 291.4h1.6v1.6h-1.6zM363.7 304.4h1.6v1.6h-1.6zM400.7 287.5h1.6v1.6h-1.6zM406.0 301.6h1.6v1.6h-1.6zM414.6 291.2h1.6v1.6h-1.6zM412.9 281.6h1.6v1.6h-1.6zM405.5 294.3h1.6v1.6h-1.6zM389.9 288.7h1.6v1.6h-1.6zM407.6 301.5h1.6v1.6h-1.6zM423.4 297.6h1.6v1.6h-1.6zM397.9 290.5h1.6v1.6h-1.6zM390.5 304.9h1.6v1.6h-1.6zM384.5 308.3h1.6v1.6h-1.6zM405.5 315.5h1.6v1.6h-1.6zM415.3 294.0h1.6v1.6h-1.6zM412.9 302.7h1.6v1.6h-1.6zM413.7 300.1h1.6v1.6h-1.6zM411.9 283.8h1.6v1.6h-1.6zM423.9 298.3h1.6v1.6h-1.6zM424.5 296.3h1.6v1.6h-1.6zM503.2 278.5h1.6v1.6h-1.6zM488.7 273.9h1.6v1.6h-1.6zM488.3 246.2h1.6v1.6h-1.6zM481.8 273.9h1.6v1.6h-1.6zM480.6 285.9h1.6v1.6h-1.6zM481.8 262.3h1.6v1.6h-1.6zM480.6 288.6h1.6v1.6h-1.6zM482.3 265.5h1.6v1.6h-1.6zM478.3 271.9h1.6v1.6h-1.6zM477.1 279.1h1.6v1.6h-1.6zM480.0 294.2h1.6v1.6h-1.6zM473.1 275.4h1.6v1.6h-1.6zM471.4 266.7h1.6v1.6h-1.6zM473.7 276.5h1.6v1.6h-1.6zM470.2 289.9h1.6v1.6h-1.6zM474.9 293.9h1.6v1.6h-1.6zM471.4 281.7h1.6v1.6h-1.6zM468.4 272.2h1.6v1.6h-1.6zM466.8 274.6h1.6v1.6h-1.6zM468.0 280.4h1.6v1.6h-1.6zM473.7 279.3h1.6v1.6h-1.6zM473.7 303.2h1.6v1.6h-1.6zM470.2 271.5h1.6v1.6h-1.6zM471.4 270.4h1.6v1.6h-1.6zM469.0 280.5h1.6v1.6h-1.6zM464.5 284.6h1.6v1.6h-1.6zM465.6 288.0h1.6v1.6h-1.6zM466.8 281.0h1.6v1.6h-1.6zM464.5 301.5h1.6v1.6h-1.6zM458.6 279.5h1.6v1.6h-1.6zM461.0 289.7h1.6v1.6h-1.6zM457.6 286.6h1.6v1.6h-1.6zM459.1 285.6h1.6v1.6h-1.6zM456.4 279.8h1.6v1.6h-1.6zM457.6 279.9h1.6v1.6h-1.6zM456.4 288.0h1.6v1.6h-1.6zM462.9 234.7h1.6v1.6h-1.6zM461.0 283.8h1.6v1.6h-1.6zM457.6 289.3h1.6v1.6h-1.6zM454.0 285.8h1.6v1.6h-1.6zM454.0 281.7h1.6v1.6h-1.6zM451.7 298.0h1.6v1.6h-1.6zM451.7 304.6h1.6v1.6h-1.6zM448.3 278.2h1.6v1.6h-1.6zM451.7 290.5h1.6v1.6h-1.6zM448.3 297.3h1.6v1.6h-1.6zM447.1 287.2h1.6v1.6h-1.6zM443.6 293.5h1.6v1.6h-1.6zM446.0 286.3h1.6v1.6h-1.6zM442.5 281.3h1.6v1.6h-1.6zM440.6 285.9h1.6v1.6h-1.6zM441.9 308.8h1.6v1.6h-1.6zM440.1 296.3h1.6v1.6h-1.6zM443.6 283.2h1.6v1.6h-1.6zM436.7 286.8h1.6v1.6h-1.6zM442.5 286.3h1.6v1.6h-1.6zM436.7 290.7h1.6v1.6h-1.6zM436.7 308.9h1.6v1.6h-1.6zM436.7 273.2h1.6v1.6h-1.6zM437.9 284.9h1.6v1.6h-1.6zM436.7 266.5h1.6v1.6h-1.6zM431.0 283.2h1.6v1.6h-1.6zM429.8 287.8h1.6v1.6h-1.6zM429.8 235.0h1.6v1.6h-1.6zM428.6 261.1h1.6v1.6h-1.6zM428.6 248.8h1.6v1.6h-1.6zM428.6 289.8h1.6v1.6h-1.6zM422.2 292.9h1.6v1.6h-1.6zM419.2 292.5h1.6v1.6h-1.6zM417.6 296.4h1.6v1.6h-1.6zM418.8 285.3h1.6v1.6h-1.6zM421.0 292.7h1.6v1.6h-1.6zM422.2 301.7h1.6v1.6h-1.6zM423.0 277.1h1.6v1.6h-1.6zM421.0 295.9h1.6v1.6h-1.6zM420.0 297.9h1.6v1.6h-1.6zM421.0 298.2h1.6v1.6h-1.6zM414.6 293.8h1.6v1.6h-1.6zM415.3 302.1h1.6v1.6h-1.6zM412.9 294.0h1.6v1.6h-1.6zM415.3 281.5h1.6v1.6h-1.6zM415.3 292.4h1.6v1.6h-1.6zM415.3 302.4h1.6v1.6h-1.6zM411.9 296.2h1.6v1.6h-1.6zM409.4 305.0h1.6v1.6h-1.6zM410.6 293.3h1.6v1.6h-1.6zM409.4 292.3h1.6v1.6h-1.6zM409.9 279.5h1.6v1.6h-1.6zM407.2 258.8h1.6v1.6h-1.6zM405.4 294.3h1.6v1.6h-1.6zM408.4 250.8h1.6v1.6h-1.6zM410.6 307.0h1.6v1.6h-1.6zM412.9 298.4h1.6v1.6h-1.6zM407.2 284.3h1.6v1.6h-1.6zM402.5 319.6h1.6v1.6h-1.6zM400.7 282.8h1.6v1.6h-1.6zM402.5 301.2h1.6v1.6h-1.6zM404.3 294.4h1.6v1.6h-1.6zM401.3 256.7h1.6v1.6h-1.6zM401.3 292.1h1.6v1.6h-1.6zM403.7 295.0h1.6v1.6h-1.6zM402.5 312.1h1.6v1.6h-1.6zM401.3 301.6h1.6v1.6h-1.6zM396.8 305.6h1.6v1.6h-1.6zM397.9 289.5h1.6v1.6h-1.6zM394.4 313.4h1.6v1.6h-1.6zM395.6 284.5h1.6v1.6h-1.6zM397.9 258.6h1.6v1.6h-1.6zM397.9 242.6h1.6v1.6h-1.6zM399.1 301.2h1.6v1.6h-1.6zM396.8 287.4h1.6v1.6h-1.6zM389.9 293.2h1.6v1.6h-1.6zM390.9 289.0h1.6v1.6h-1.6zM389.9 311.1h1.6v1.6h-1.6zM388.7 301.2h1.6v1.6h-1.6zM392.1 287.6h1.6v1.6h-1.6zM389.9 254.2h1.6v1.6h-1.6zM384.0 298.2h1.6v1.6h-1.6zM385.2 297.7h1.6v1.6h-1.6zM382.8 313.6h1.6v1.6h-1.6zM379.4 302.2h1.6v1.6h-1.6zM375.9 305.4h1.6v1.6h-1.6zM371.2 297.4h1.6v1.6h-1.6zM379.4 287.9h1.6v1.6h-1.6zM383.3 292.8h1.6v1.6h-1.6zM375.9 302.6h1.6v1.6h-1.6zM374.2 308.9h1.6v1.6h-1.6zM370.2 298.3h1.6v1.6h-1.6zM367.8 290.9h1.6v1.6h-1.6zM365.1 321.4h1.6v1.6h-1.6zM364.3 293.2h1.6v1.6h-1.6zM364.3 304.8h1.6v1.6h-1.6zM363.7 287.2h1.6v1.6h-1.6zM358.1 288.0h1.6v1.6h-1.6zM356.2 320.8h1.6v1.6h-1.6zM335.9 310.4h1.6v1.6h-1.6zM439.4 299.6h1.6v1.6h-1.6zM447.5 285.8h1.6v1.6h-1.6zM400.4 301.0h1.6v1.6h-1.6zM415.9 305.1h1.6v1.6h-1.6zM441.5 279.0h1.6v1.6h-1.6zM479.9 295.0h1.6v1.6h-1.6zM433.9 268.3h1.6v1.6h-1.6zM414.0 292.8h1.6v1.6h-1.6zM446.2 282.9h1.6v1.6h-1.6zM475.2 277.4h1.6v1.6h-1.6zM487.4 285.4h1.6v1.6h-1.6zM472.8 276.4h1.6v1.6h-1.6zM453.7 276.9h1.6v1.6h-1.6zM426.6 274.9h1.6v1.6h-1.6zM489.3 282.8h1.6v1.6h-1.6zM456.0 276.1h1.6v1.6h-1.6zM396.4 292.1h1.6v1.6h-1.6zM401.2 290.6h1.6v1.6h-1.6zM489.0 268.4h1.6v1.6h-1.6zM485.3 280.5h1.6v1.6h-1.6zM475.0 276.8h1.6v1.6h-1.6zM474.2 287.2h1.6v1.6h-1.6zM452.2 277.7h1.6v1.6h-1.6zM482.8 286.1h1.6v1.6h-1.6zM410.3 300.8h1.6v1.6h-1.6zM462.5 288.2h1.6v1.6h-1.6zM472.7 285.5h1.6v1.6h-1.6zM475.9 301.8h1.6v1.6h-1.6zM473.6 259.6h1.6v1.6h-1.6zM425.3 297.1h1.6v1.6h-1.6zM478.2 239.6h1.6v1.6h-1.6zM450.5 283.7h1.6v1.6h-1.6zM472.2 286.1h1.6v1.6h-1.6zM414.9 296.6h1.6v1.6h-1.6zM462.2 293.5h1.6v1.6h-1.6zM422.4 277.5h1.6v1.6h-1.6zM468.6 285.7h1.6v1.6h-1.6zM405.8 286.9h1.6v1.6h-1.6zM447.5 291.1h1.6v1.6h-1.6zM421.5 253.9h1.6v1.6h-1.6zM448.7 278.7h1.6v1.6h-1.6zM421.7 285.3h1.6v1.6h-1.6zM386.4 267.1h1.6v1.6h-1.6zM460.2 272.5h1.6v1.6h-1.6zM466.7 287.1h1.6v1.6h-1.6zM415.5 283.2h1.6v1.6h-1.6zM451.7 276.7h1.6v1.6h-1.6zM443.1 285.0h1.6v1.6h-1.6zM431.6 258.9h1.6v1.6h-1.6zM407.4 300.8h1.6v1.6h-1.6zM391.7 302.9h1.6v1.6h-1.6zM475.9 283.8h1.6v1.6h-1.6zM475.2 298.0h1.6v1.6h-1.6zM400.0 295.5h1.6v1.6h-1.6zM474.9 284.8h1.6v1.6h-1.6zM473.3 284.2h1.6v1.6h-1.6zM463.6 273.9h1.6v1.6h-1.6zM453.7 279.3h1.6v1.6h-1.6zM475.8 278.5h1.6v1.6h-1.6zM467.7 281.0h1.6v1.6h-1.6zM422.7 289.5h1.6v1.6h-1.6zM474.3 280.9h1.6v1.6h-1.6zM456.6 282.6h1.6v1.6h-1.6zM414.7 295.1h1.6v1.6h-1.6zM443.3 292.4h1.6v1.6h-1.6zM480.8 269.1h1.6v1.6h-1.6zM415.5 295.0h1.6v1.6h-1.6zM402.9 296.8h1.6v1.6h-1.6zM456.5 282.9h1.6v1.6h-1.6zM386.4 276.1h1.6v1.6h-1.6zM401.7 252.8h1.6v1.6h-1.6z" fill="#3636a0" fill-opacity="0.85"/>
<line x1="336.00" y1="277.50" x2="503.75" y2="278.75" stroke="#e2813e" stroke-width="1.7" stroke-linecap="butt"/>
<line x1="336.00" y1="308.00" x2="503.75" y2="278.75" stroke="#3030b0" stroke-width="1.7" stroke-linecap="butt"/>
<line x1="326.90" y1="200.00" x2="326.90" y2="325.20" stroke="#1b1b1b" stroke-width="1.7" stroke-linecap="butt"/>
<line x1="326.90" y1="324.40" x2="514.50" y2="324.40" stroke="#1b1b1b" stroke-width="1.7" stroke-linecap="butt"/>
<line x1="324.90" y1="320.80" x2="326.90" y2="320.80" stroke="#1b1b1b" stroke-width="1.1" stroke-linecap="butt"/>
<line x1="324.90" y1="317.18" x2="326.90" y2="317.18" stroke="#1b1b1b" stroke-width="1.1" stroke-linecap="butt"/>
<line x1="324.90" y1="314.04" x2="326.90" y2="314.04" stroke="#1b1b1b" stroke-width="1.1" stroke-linecap="butt"/>
<line x1="324.90" y1="311.28" x2="326.90" y2="311.28" stroke="#1b1b1b" stroke-width="1.1" stroke-linecap="butt"/>
<line x1="323.60" y1="308.80" x2="326.90" y2="308.80" stroke="#1b1b1b" stroke-width="1.6" stroke-linecap="butt"/>
<line x1="324.90" y1="292.51" x2="326.90" y2="292.51" stroke="#1b1b1b" stroke-width="1.1" stroke-linecap="butt"/>
<line x1="324.90" y1="282.99" x2="326.90" y2="282.99" stroke="#1b1b1b" stroke-width="1.1" stroke-linecap="butt"/>
<line x1="324.90" y1="276.23" x2="326.90" y2="276.23" stroke="#1b1b1b" stroke-width="1.1" stroke-linecap="butt"/>
<line x1="324.90" y1="270.99" x2="326.90" y2="270.99" stroke="#1b1b1b" stroke-width="1.1" stroke-linecap="butt"/>
<line x1="324.90" y1="266.70" x2="326.90" y2="266.70" stroke="#1b1b1b" stroke-width="1.1" stroke-linecap="butt"/>
<line x1="324.90" y1="263.08" x2="326.90" y2="263.08" stroke="#1b1b1b" stroke-width="1.1" stroke-linecap="butt"/>
<line x1="324.90" y1="259.94" x2="326.90" y2="259.94" stroke="#1b1b1b" stroke-width="1.1" stroke-linecap="butt"/>
<line x1="324.90" y1="257.18" x2="326.90" y2="257.18" stroke="#1b1b1b" stroke-width="1.1" stroke-linecap="butt"/>
<line x1="323.60" y1="254.70" x2="326.90" y2="254.70" stroke="#1b1b1b" stroke-width="1.6" stroke-linecap="butt"/>
<line x1="324.90" y1="238.41" x2="326.90" y2="238.41" stroke="#1b1b1b" stroke-width="1.1" stroke-linecap="butt"/>
<line x1="324.90" y1="228.89" x2="326.90" y2="228.89" stroke="#1b1b1b" stroke-width="1.1" stroke-linecap="butt"/>
<line x1="324.90" y1="222.13" x2="326.90" y2="222.13" stroke="#1b1b1b" stroke-width="1.1" stroke-linecap="butt"/>
<line x1="324.90" y1="216.89" x2="326.90" y2="216.89" stroke="#1b1b1b" stroke-width="1.1" stroke-linecap="butt"/>
<line x1="324.90" y1="212.60" x2="326.90" y2="212.60" stroke="#1b1b1b" stroke-width="1.1" stroke-linecap="butt"/>
<line x1="324.90" y1="208.98" x2="326.90" y2="208.98" stroke="#1b1b1b" stroke-width="1.1" stroke-linecap="butt"/>
<line x1="324.90" y1="205.84" x2="326.90" y2="205.84" stroke="#1b1b1b" stroke-width="1.1" stroke-linecap="butt"/>
<line x1="324.90" y1="203.08" x2="326.90" y2="203.08" stroke="#1b1b1b" stroke-width="1.1" stroke-linecap="butt"/>
<line x1="323.60" y1="200.60" x2="326.90" y2="200.60" stroke="#1b1b1b" stroke-width="1.6" stroke-linecap="butt"/>
<text x="319.40" y="204.10" font-family='"Liberation Sans", sans-serif' font-size="9.5" font-weight="bold" text-anchor="end" fill="#141414">1</text>
<text x="319.40" y="258.20" font-family='"Liberation Sans", sans-serif' font-size="9.5" font-weight="bold" text-anchor="end" fill="#141414">0.1</text>
<text x="319.40" y="312.30" font-family='"Liberation Sans", sans-serif' font-size="9.5" font-weight="bold" text-anchor="end" fill="#141414">0.01</text>
<line x1="343.75" y1="324.40" x2="343.75" y2="327.40" stroke="#1b1b1b" stroke-width="1.6" stroke-linecap="butt"/>
<text x="343.75" y="339.60" font-family='"Liberation Sans", sans-serif' font-size="9.8" font-weight="bold" text-anchor="middle" fill="#141414">5</text>
<line x1="428.75" y1="324.40" x2="428.75" y2="327.40" stroke="#1b1b1b" stroke-width="1.6" stroke-linecap="butt"/>
<text x="428.75" y="339.60" font-family='"Liberation Sans", sans-serif' font-size="9.8" font-weight="bold" text-anchor="middle" fill="#141414">10</text>
<line x1="514.00" y1="324.40" x2="514.00" y2="327.40" stroke="#1b1b1b" stroke-width="1.6" stroke-linecap="butt"/>
<text x="514.00" y="339.60" font-family='"Liberation Sans", sans-serif' font-size="9.8" font-weight="bold" text-anchor="middle" fill="#141414">15</text>
<text x="421.00" y="351.50" font-family='"Liberation Sans", sans-serif' font-size="10.0" font-weight="bold" text-anchor="middle" fill="#141414">VCAN mRNA expression</text>
<text x="298.00" y="262.60" font-family='"Liberation Sans", sans-serif' font-size="11.1" font-weight="bold" text-anchor="middle" fill="#141414" transform="rotate(-90 298.00 262.60)">Methylation (HM27)</text>
<line x1="360.00" y1="199.00" x2="373.00" y2="199.00" stroke="#3030b0" stroke-width="1.7" stroke-linecap="butt"/>
<text x="380.50" y="202.80" font-family='"Liberation Sans", sans-serif' font-size="10.5" font-weight="normal" text-anchor="start" fill="#141414">FOXA2</text>
<line x1="427.50" y1="199.00" x2="441.00" y2="199.00" stroke="#e2813e" stroke-width="1.7" stroke-linecap="butt"/>
<text x="449.00" y="202.80" font-family='"Liberation Sans", sans-serif' font-size="10.5" font-weight="normal" text-anchor="start" fill="#141414">VCAN</text>
<text x="0.10" y="371.20" font-family='"Liberation Sans", sans-serif' font-size="16" font-weight="bold" text-anchor="start" fill="#141414">C</text>
<polyline points="60.80,387.80 61.27,387.80 61.27,389.73 61.73,389.73 61.73,391.67 62.20,391.67 62.20,393.60 63.20,393.60 63.20,395.50 65.60,395.50 65.60,396.50 68.90,396.50 68.90,398.40 71.30,398.40 71.30,400.80 73.30,400.80 73.30,402.70 75.20,402.70 75.20,404.60 75.67,404.60 75.67,406.70 76.13,406.70 76.13,408.80 76.60,408.80 76.60,410.90 77.27,410.90 77.27,412.50 77.93,412.50 77.93,414.10 78.60,414.10 78.60,415.70 81.40,415.70 81.40,418.10 83.40,418.10 83.40,420.00 84.35,420.00 84.35,421.45 85.30,421.45 85.30,422.90 86.25,422.90 86.25,424.60 87.20,424.60 87.20,426.30 88.00,426.30 88.00,428.55 88.80,428.55 88.80,430.80 89.30,430.80 89.30,432.48 89.80,432.48 89.80,434.15 90.30,434.15 90.30,435.82 90.80,435.82 90.80,437.50 91.50,437.50 91.50,439.65 92.20,439.65 92.20,441.80 93.40,441.80 93.40,443.25 94.60,443.25 94.60,444.70 95.55,444.70 95.55,446.85 96.50,446.85 96.50,449.00 97.17,449.00 97.17,450.60 97.83,450.60 97.83,452.20 98.50,452.20 98.50,453.80 99.20,453.80 99.20,455.75 99.90,455.75 99.90,457.70 101.10,457.70 101.10,459.60 102.30,459.60 102.30,461.50 103.25,461.50 103.25,462.95 104.20,462.95 104.20,464.40 105.40,464.40 105.40,465.85 106.60,465.85 106.60,467.30 109.00,467.30 109.00,469.70 111.40,469.70 111.40,472.10 113.80,472.10 113.80,474.50 115.35,474.50 115.35,476.65 116.90,476.65 116.90,478.80 119.47,478.80 119.47,480.37 122.03,480.37 122.03,481.93 124.60,481.93 124.60,483.50 126.67,483.50 126.67,485.03 128.73,485.03 128.73,486.57 130.80,486.57 130.80,488.10 132.33,488.10 132.33,489.90 133.87,489.90 133.87,491.70 135.40,491.70 135.40,493.50 214.30,493.50" fill="none" stroke="#2f953b" stroke-width="1.6" stroke-linejoin="miter"/>
<polyline points="60.80,387.80 61.50,387.80 61.50,389.25 62.20,389.25 62.20,390.70 64.60,390.70 64.60,392.10 68.00,392.10 68.00,393.10 70.90,393.10 70.90,395.00 73.80,395.00 73.80,397.40 74.75,397.40 74.75,398.85 75.70,398.85 75.70,400.30 78.10,400.30 78.10,402.20 78.80,402.20 78.80,404.15 79.50,404.15 79.50,406.10 80.45,406.10 80.45,407.55 81.40,407.55 81.40,409.00 82.60,409.00 82.60,410.40 83.80,410.40 83.80,411.80 86.70,411.80 86.70,414.30 89.10,414.30 89.10,415.70 89.77,415.70 89.77,417.63 90.43,417.63 90.43,419.57 91.10,419.57 91.10,421.50 91.80,421.50 91.80,423.17 92.50,423.17 92.50,424.83 93.20,424.83 93.20,426.50 94.00,426.50 94.00,428.10 94.80,428.10 94.80,429.70 95.60,429.70 95.60,431.30 96.80,431.30 96.80,432.70 98.00,432.70 98.00,434.10 98.70,434.10 98.70,435.55 99.40,435.55 99.40,437.00 101.80,437.00 101.80,439.40 102.30,439.40 102.30,441.10 102.80,441.10 102.80,442.80 104.25,442.80 104.25,444.25 105.70,444.25 105.70,445.70 106.65,445.70 106.65,447.35 107.60,447.35 107.60,449.00 108.30,449.00 108.30,451.20 109.00,451.20 109.00,453.40 110.20,453.40 110.20,455.30 111.40,455.30 111.40,457.20 113.80,457.20 113.80,458.20 115.05,458.20 115.05,459.65 116.30,459.65 116.30,461.10 118.70,461.10 118.70,463.50 120.60,463.50 120.60,465.90 131.20,465.90 132.15,465.90 132.15,467.55 133.10,467.55 133.10,469.20 133.80,469.20 133.80,471.15 134.50,471.15 134.50,473.10 134.98,473.10 134.98,474.86 135.46,474.86 135.46,476.62 135.94,476.62 135.94,478.38 136.42,478.38 136.42,480.14 136.90,480.14 136.90,481.90 150.00,481.90 151.00,481.90 151.00,484.20 152.80,484.20 152.80,486.00 154.60,486.00 154.60,487.80 189.70,487.80 189.70,501.40" fill="none" stroke="#c8283a" stroke-width="1.6" stroke-linejoin="miter"/>
<line x1="60.40" y1="387.20" x2="60.40" y2="501.80" stroke="#1b1b1b" stroke-width="1.7" stroke-linecap="butt"/>
<line x1="60.40" y1="501.40" x2="230.80" y2="501.40" stroke="#1b1b1b" stroke-width="1.7" stroke-linecap="butt"/>
<line x1="57.40" y1="387.30" x2="60.40" y2="387.30" stroke="#1b1b1b" stroke-width="1.6" stroke-linecap="butt"/>
<text x="56.40" y="390.72" font-family='"Liberation Sans", sans-serif' font-size="9.5" font-weight="bold" text-anchor="end" fill="#141414">100</text>
<line x1="57.40" y1="410.20" x2="60.40" y2="410.20" stroke="#1b1b1b" stroke-width="1.6" stroke-linecap="butt"/>
<text x="56.40" y="413.62" font-family='"Liberation Sans", sans-serif' font-size="9.5" font-weight="bold" text-anchor="end" fill="#141414">80</text>
<line x1="57.40" y1="433.00" x2="60.40" y2="433.00" stroke="#1b1b1b" stroke-width="1.6" stroke-linecap="butt"/>
<text x="56.40" y="436.42" font-family='"Liberation Sans", sans-serif' font-size="9.5" font-weight="bold" text-anchor="end" fill="#141414">60</text>
<line x1="57.40" y1="455.80" x2="60.40" y2="455.80" stroke="#1b1b1b" stroke-width="1.6" stroke-linecap="butt"/>
<text x="56.40" y="459.22" font-family='"Liberation Sans", sans-serif' font-size="9.5" font-weight="bold" text-anchor="end" fill="#141414">40</text>
<line x1="57.40" y1="478.60" x2="60.40" y2="478.60" stroke="#1b1b1b" stroke-width="1.6" stroke-linecap="butt"/>
<text x="56.40" y="482.02" font-family='"Liberation Sans", sans-serif' font-size="9.5" font-weight="bold" text-anchor="end" fill="#141414">20</text>
<line x1="57.40" y1="501.20" x2="60.40" y2="501.20" stroke="#1b1b1b" stroke-width="1.6" stroke-linecap="butt"/>
<text x="56.40" y="504.62" font-family='"Liberation Sans", sans-serif' font-size="9.5" font-weight="bold" text-anchor="end" fill="#141414">0</text>
<line x1="60.40" y1="501.40" x2="60.40" y2="504.40" stroke="#1b1b1b" stroke-width="1.6" stroke-linecap="butt"/>
<text x="60.40" y="514.40" font-family='"Liberation Sans", sans-serif' font-size="9.5" font-weight="bold" text-anchor="middle" fill="#141414">0</text>
<line x1="117.10" y1="501.40" x2="117.10" y2="504.40" stroke="#1b1b1b" stroke-width="1.6" stroke-linecap="butt"/>
<text x="117.10" y="514.40" font-family='"Liberation Sans", sans-serif' font-size="9.5" font-weight="bold" text-anchor="middle" fill="#141414">2,000</text>
<line x1="173.80" y1="501.40" x2="173.80" y2="504.40" stroke="#1b1b1b" stroke-width="1.6" stroke-linecap="butt"/>
<text x="173.80" y="514.40" font-family='"Liberation Sans", sans-serif' font-size="9.5" font-weight="bold" text-anchor="middle" fill="#141414">4,000</text>
<line x1="230.50" y1="501.40" x2="230.50" y2="504.40" stroke="#1b1b1b" stroke-width="1.6" stroke-linecap="butt"/>
<text x="230.50" y="514.40" font-family='"Liberation Sans", sans-serif' font-size="9.5" font-weight="bold" text-anchor="middle" fill="#141414">6,000</text>
<text x="145.70" y="527.60" font-family='"Liberation Sans", sans-serif' font-size="11" font-weight="bold" text-anchor="middle" fill="#141414">Days</text>
<text x="34.00" y="443.80" font-family='"Liberation Sans", sans-serif' font-size="11.1" font-weight="bold" text-anchor="middle" fill="#141414" transform="rotate(-90 34.00 443.80)">Percent survival</text>
<text x="189.10" y="483.00" font-family='"Liberation Sans", sans-serif' font-size="13" font-weight="bold" text-anchor="middle" fill="#141414">**</text>
<line x1="74.40" y1="372.10" x2="87.00" y2="372.10" stroke="#2f953b" stroke-width="1.8" stroke-linecap="butt"/>
<text x="96.20" y="375.70" font-family='"Liberation Sans", sans-serif' font-size="9.4" font-weight="bold" text-anchor="start" fill="#141414">Low FOXA2/High VCAN <tspan font-weight="normal">Δ</tspan> &lt; 0</text>
<line x1="74.40" y1="385.10" x2="87.00" y2="385.10" stroke="#c8283a" stroke-width="1.8" stroke-linecap="butt"/>
<text x="96.20" y="388.80" font-family='"Liberation Sans", sans-serif' font-size="9.4" font-weight="bold" text-anchor="start" fill="#141414">High FOXA2/Low VCAN <tspan font-weight="normal">Δ</tspan> &gt; 0</text>
<polyline points="324.00,385.50 326.30,385.50 326.30,386.00 327.20,386.00 327.20,387.75 328.10,387.75 328.10,389.50 328.65,389.50 328.65,391.50 329.20,391.50 329.20,393.50 329.50,393.50 329.50,395.43 329.80,395.43 329.80,397.37 330.10,397.37 330.10,399.30 330.50,399.30 330.50,401.23 330.90,401.23 330.90,403.17 331.30,403.17 331.30,405.10 331.57,405.10 331.57,407.12 331.85,407.12 331.85,409.15 332.12,409.15 332.12,411.18 332.40,411.18 332.40,413.20 332.68,413.20 332.68,415.04 332.96,415.04 332.96,416.88 333.24,416.88 333.24,418.72 333.52,418.72 333.52,420.56 333.80,420.56 333.80,422.40 334.10,422.40 334.10,424.24 334.40,424.24 334.40,426.08 334.70,426.08 334.70,427.92 335.00,427.92 335.00,429.76 335.30,429.76 335.30,431.60 335.55,431.60 335.55,433.58 335.80,433.58 335.80,435.55 336.05,435.55 336.05,437.52 336.30,437.52 336.30,439.50 336.66,439.50 336.66,441.36 337.02,441.36 337.02,443.22 337.38,443.22 337.38,445.08 337.74,445.08 337.74,446.94 338.10,446.94 338.10,448.80 338.44,448.80 338.44,450.64 338.78,450.64 338.78,452.48 339.12,452.48 339.12,454.32 339.46,454.32 339.46,456.16 339.80,456.16 339.80,458.00 340.14,458.00 340.14,459.62 340.48,459.62 340.48,461.24 340.82,461.24 340.82,462.86 341.16,462.86 341.16,464.48 341.50,464.48 341.50,466.10 342.67,466.10 342.67,468.20 343.83,468.20 343.83,470.30 345.00,470.30 345.00,472.40 345.85,472.40 345.85,474.40 346.70,474.40 346.70,476.40 347.15,476.40 347.15,478.15 347.60,478.15 347.60,479.90 348.05,479.90 348.05,481.65 348.50,481.65 348.50,483.40 350.80,483.40 350.80,485.10 353.10,485.10 353.10,486.80 364.00,486.80 364.00,487.40 365.37,487.40 365.37,488.93 366.73,488.93 366.73,490.47 368.10,490.47 368.10,492.00 383.10,492.00 383.10,493.40 390.00,493.40 390.00,494.00 477.50,494.00" fill="none" stroke="#2f953b" stroke-width="1.6" stroke-linejoin="miter"/>
<polyline points="324.00,385.50 326.30,385.50 328.70,385.50 328.70,387.80 329.55,387.80 329.55,389.25 330.40,389.25 330.40,390.70 330.87,390.70 330.87,392.23 331.33,392.23 331.33,393.77 331.80,393.77 331.80,395.30 332.10,395.30 332.10,397.03 332.40,397.03 332.40,398.77 332.70,398.77 332.70,400.50 333.00,400.50 333.00,402.40 333.30,402.40 333.30,404.30 333.60,404.30 333.60,406.20 334.07,406.20 334.07,408.13 334.53,408.13 334.53,410.07 335.00,410.07 335.00,412.00 335.47,412.00 335.47,413.93 335.93,413.93 335.93,415.87 336.40,415.87 336.40,417.80 336.62,417.80 336.62,419.68 336.85,419.68 336.85,421.55 337.07,421.55 337.07,423.43 337.30,423.43 337.30,425.30 337.58,425.30 337.58,427.22 337.86,427.22 337.86,429.14 338.14,429.14 338.14,431.06 338.42,431.06 338.42,432.98 338.70,432.98 338.70,434.90 339.47,434.90 339.47,436.83 340.23,436.83 340.23,438.77 341.00,438.77 341.00,440.70 341.43,440.70 341.43,442.57 341.85,442.57 341.85,444.45 342.27,444.45 342.27,446.32 342.70,446.32 342.70,448.20 343.47,448.20 343.47,449.73 344.23,449.73 344.23,451.27 345.00,451.27 345.00,452.80 345.57,452.80 345.57,454.73 346.13,454.73 346.13,456.67 346.70,456.67 346.70,458.60 348.45,458.60 348.45,460.30 350.20,460.30 350.20,462.00 351.17,462.00 351.17,463.93 352.13,463.93 352.13,465.87 353.10,465.87 353.10,467.80 356.50,467.80 356.50,468.90 357.27,468.90 357.27,470.83 358.03,470.83 358.03,472.77 358.80,472.77 358.80,474.70 359.97,474.70 359.97,476.43 361.13,476.43 361.13,478.17 362.30,478.17 362.30,479.90 366.90,479.90 366.90,480.50 367.75,480.50 367.75,482.20 368.60,482.20 368.60,483.90 369.50,483.90 369.50,485.65 370.40,485.65 370.40,487.40 385.10,487.40 385.10,499.60" fill="none" stroke="#c8283a" stroke-width="1.6" stroke-linejoin="miter"/>
<line x1="323.40" y1="385.50" x2="323.40" y2="500.40" stroke="#1b1b1b" stroke-width="1.7" stroke-linecap="butt"/>
<line x1="323.40" y1="499.60" x2="494.30" y2="499.60" stroke="#1b1b1b" stroke-width="1.7" stroke-linecap="butt"/>
<line x1="320.40" y1="386.20" x2="323.40" y2="386.20" stroke="#1b1b1b" stroke-width="1.6" stroke-linecap="butt"/>
<text x="319.10" y="389.62" font-family='"Liberation Sans", sans-serif' font-size="9.5" font-weight="bold" text-anchor="end" fill="#141414">100</text>
<line x1="320.40" y1="409.10" x2="323.40" y2="409.10" stroke="#1b1b1b" stroke-width="1.6" stroke-linecap="butt"/>
<text x="319.10" y="412.52" font-family='"Liberation Sans", sans-serif' font-size="9.5" font-weight="bold" text-anchor="end" fill="#141414">80</text>
<line x1="320.40" y1="432.00" x2="323.40" y2="432.00" stroke="#1b1b1b" stroke-width="1.6" stroke-linecap="butt"/>
<text x="319.10" y="435.42" font-family='"Liberation Sans", sans-serif' font-size="9.5" font-weight="bold" text-anchor="end" fill="#141414">60</text>
<line x1="320.40" y1="454.40" x2="323.40" y2="454.40" stroke="#1b1b1b" stroke-width="1.6" stroke-linecap="butt"/>
<text x="319.10" y="457.82" font-family='"Liberation Sans", sans-serif' font-size="9.5" font-weight="bold" text-anchor="end" fill="#141414">40</text>
<line x1="320.40" y1="477.20" x2="323.40" y2="477.20" stroke="#1b1b1b" stroke-width="1.6" stroke-linecap="butt"/>
<text x="319.10" y="480.62" font-family='"Liberation Sans", sans-serif' font-size="9.5" font-weight="bold" text-anchor="end" fill="#141414">20</text>
<line x1="320.40" y1="499.60" x2="323.40" y2="499.60" stroke="#1b1b1b" stroke-width="1.6" stroke-linecap="butt"/>
<text x="319.10" y="503.02" font-family='"Liberation Sans", sans-serif' font-size="9.5" font-weight="bold" text-anchor="end" fill="#141414">0</text>
<line x1="323.50" y1="499.60" x2="323.50" y2="502.60" stroke="#1b1b1b" stroke-width="1.6" stroke-linecap="butt"/>
<text x="323.50" y="513.00" font-family='"Liberation Sans", sans-serif' font-size="9.5" font-weight="bold" text-anchor="middle" fill="#141414">0</text>
<line x1="380.50" y1="499.60" x2="380.50" y2="502.60" stroke="#1b1b1b" stroke-width="1.6" stroke-linecap="butt"/>
<text x="380.50" y="513.00" font-family='"Liberation Sans", sans-serif' font-size="9.5" font-weight="bold" text-anchor="middle" fill="#141414">2,000</text>
<line x1="437.30" y1="499.60" x2="437.30" y2="502.60" stroke="#1b1b1b" stroke-width="1.6" stroke-linecap="butt"/>
<text x="437.30" y="513.00" font-family='"Liberation Sans", sans-serif' font-size="9.5" font-weight="bold" text-anchor="middle" fill="#141414">4,000</text>
<line x1="494.00" y1="499.60" x2="494.00" y2="502.60" stroke="#1b1b1b" stroke-width="1.6" stroke-linecap="butt"/>
<text x="494.00" y="513.00" font-family='"Liberation Sans", sans-serif' font-size="9.5" font-weight="bold" text-anchor="middle" fill="#141414">6,000</text>
<text x="409.00" y="527.60" font-family='"Liberation Sans", sans-serif' font-size="11" font-weight="bold" text-anchor="middle" fill="#141414">Days</text>
<text x="298.00" y="441.00" font-family='"Liberation Sans", sans-serif' font-size="11" font-weight="bold" text-anchor="middle" fill="#141414" transform="rotate(-90 298.00 441.00)">Percent disease free</text>
<text x="385.00" y="482.50" font-family='"Liberation Sans", sans-serif' font-size="13" font-weight="bold" text-anchor="middle" fill="#141414">**</text>
<line x1="342.50" y1="372.00" x2="354.00" y2="372.00" stroke="#2f953b" stroke-width="1.8" stroke-linecap="butt"/>
<text x="365.80" y="375.10" font-family='"Liberation Sans", sans-serif' font-size="9.45" font-weight="bold" text-anchor="start" fill="#141414">Low FOXA2/High VCAN <tspan font-weight="normal">Δ</tspan> &lt; 0</text>
<line x1="342.50" y1="384.30" x2="354.00" y2="384.30" stroke="#c8283a" stroke-width="1.8" stroke-linecap="butt"/>
<text x="365.80" y="387.80" font-family='"Liberation Sans", sans-serif' font-size="9.45" font-weight="bold" text-anchor="start" fill="#141414">High FOXA2/Low VCAN <tspan font-weight="normal">Δ</tspan> &gt; 0</text>
<text x="-0.20" y="549.20" font-family='"Liberation Sans", sans-serif' font-size="16" font-weight="bold" text-anchor="start" fill="#141414">D</text>
<line x1="74.15" y1="612.80" x2="74.15" y2="620.80" stroke="#1b1b1b" stroke-width="1.7" stroke-linecap="butt"/>
<line x1="71.25" y1="612.80" x2="77.05" y2="612.80" stroke="#1b1b1b" stroke-width="1.8" stroke-linecap="butt"/>
<rect x="68.85" y="621.65" width="10.60" height="50.85" fill="#0b8616" stroke="#1b1b1b" stroke-width="1.7"/>
<line x1="90.75" y1="578.50" x2="90.75" y2="585.80" stroke="#1b1b1b" stroke-width="1.7" stroke-linecap="butt"/>
<line x1="87.85" y1="578.50" x2="93.65" y2="578.50" stroke="#1b1b1b" stroke-width="1.8" stroke-linecap="butt"/>
<rect x="85.45" y="586.65" width="10.60" height="85.85" fill="#fd0b0b" stroke="#1b1b1b" stroke-width="1.7"/>
<text x="90.85" y="574.90" font-family='"Liberation Sans", sans-serif' font-size="13" font-weight="bold" text-anchor="middle" fill="#141414">**</text>
<line x1="118.45" y1="597.70" x2="118.45" y2="612.30" stroke="#1b1b1b" stroke-width="1.7" stroke-linecap="butt"/>
<line x1="115.55" y1="597.70" x2="121.35" y2="597.70" stroke="#1b1b1b" stroke-width="1.8" stroke-linecap="butt"/>
<rect x="113.15" y="613.15" width="10.60" height="59.35" fill="#0b8616" stroke="#1b1b1b" stroke-width="1.7"/>
<line x1="135.07" y1="564.25" x2="135.07" y2="577.00" stroke="#1b1b1b" stroke-width="1.7" stroke-linecap="butt"/>
<line x1="132.17" y1="564.25" x2="137.97" y2="564.25" stroke="#1b1b1b" stroke-width="1.8" stroke-linecap="butt"/>
<rect x="129.75" y="577.85" width="10.65" height="94.65" fill="#fd0b0b" stroke="#1b1b1b" stroke-width="1.7"/>
<text x="135.50" y="561.50" font-family='"Liberation Sans", sans-serif' font-size="13" font-weight="bold" text-anchor="middle" fill="#141414">*</text>
<line x1="163.25" y1="613.00" x2="163.25" y2="632.50" stroke="#1b1b1b" stroke-width="1.7" stroke-linecap="butt"/>
<line x1="160.35" y1="613.00" x2="166.15" y2="613.00" stroke="#1b1b1b" stroke-width="1.8" stroke-linecap="butt"/>
<rect x="157.85" y="633.35" width="10.80" height="39.15" fill="#0b8616" stroke="#1b1b1b" stroke-width="1.7"/>
<line x1="180.25" y1="553.75" x2="180.25" y2="573.00" stroke="#1b1b1b" stroke-width="1.7" stroke-linecap="butt"/>
<line x1="177.35" y1="553.75" x2="183.15" y2="553.75" stroke="#1b1b1b" stroke-width="1.8" stroke-linecap="butt"/>
<rect x="175.10" y="573.85" width="10.30" height="98.65" fill="#fd0b0b" stroke="#1b1b1b" stroke-width="1.7"/>
<text x="180.00" y="549.75" font-family='"Liberation Sans", sans-serif' font-size="13" font-weight="bold" text-anchor="middle" fill="#141414">*</text>
<line x1="208.12" y1="595.75" x2="208.12" y2="624.25" stroke="#1b1b1b" stroke-width="1.7" stroke-linecap="butt"/>
<line x1="205.22" y1="595.75" x2="211.03" y2="595.75" stroke="#1b1b1b" stroke-width="1.8" stroke-linecap="butt"/>
<rect x="202.85" y="625.10" width="10.55" height="47.40" fill="#0b8616" stroke="#1b1b1b" stroke-width="1.7"/>
<rect x="219.60" y="554.60" width="10.30" height="117.90" fill="#fd0b0b" stroke="#1b1b1b" stroke-width="1.7"/>
<text x="224.50" y="549.75" font-family='"Liberation Sans", sans-serif' font-size="13" font-weight="bold" text-anchor="middle" fill="#141414">*</text>
<line x1="60.40" y1="552.90" x2="60.40" y2="673.30" stroke="#1b1b1b" stroke-width="1.7" stroke-linecap="butt"/>
<line x1="60.40" y1="672.50" x2="238.75" y2="672.50" stroke="#1b1b1b" stroke-width="1.7" stroke-linecap="butt"/>
<line x1="57.20" y1="553.50" x2="60.40" y2="553.50" stroke="#1b1b1b" stroke-width="1.6" stroke-linecap="butt"/>
<text x="55.20" y="557.10" font-family='"Liberation Sans", sans-serif' font-size="10" font-weight="bold" text-anchor="end" fill="#141414">1.0</text>
<line x1="57.20" y1="577.30" x2="60.40" y2="577.30" stroke="#1b1b1b" stroke-width="1.6" stroke-linecap="butt"/>
<text x="55.20" y="580.90" font-family='"Liberation Sans", sans-serif' font-size="10" font-weight="bold" text-anchor="end" fill="#141414">0.8</text>
<line x1="57.20" y1="601.10" x2="60.40" y2="601.10" stroke="#1b1b1b" stroke-width="1.6" stroke-linecap="butt"/>
<text x="55.20" y="604.70" font-family='"Liberation Sans", sans-serif' font-size="10" font-weight="bold" text-anchor="end" fill="#141414">0.6</text>
<line x1="57.20" y1="624.90" x2="60.40" y2="624.90" stroke="#1b1b1b" stroke-width="1.6" stroke-linecap="butt"/>
<text x="55.20" y="628.50" font-family='"Liberation Sans", sans-serif' font-size="10" font-weight="bold" text-anchor="end" fill="#141414">0.4</text>
<line x1="57.20" y1="648.70" x2="60.40" y2="648.70" stroke="#1b1b1b" stroke-width="1.6" stroke-linecap="butt"/>
<text x="55.20" y="652.30" font-family='"Liberation Sans", sans-serif' font-size="10" font-weight="bold" text-anchor="end" fill="#141414">0.2</text>
<line x1="57.20" y1="672.50" x2="60.40" y2="672.50" stroke="#1b1b1b" stroke-width="1.6" stroke-linecap="butt"/>
<text x="55.20" y="676.10" font-family='"Liberation Sans", sans-serif' font-size="10" font-weight="bold" text-anchor="end" fill="#141414">0.0</text>
<line x1="82.30" y1="672.50" x2="82.30" y2="675.70" stroke="#1b1b1b" stroke-width="1.6" stroke-linecap="butt"/>
<text x="82.30" y="687.40" font-family='"Liberation Sans", sans-serif' font-size="11.5" font-weight="bold" text-anchor="middle" fill="#141414">SD 0.0</text>
<line x1="127.00" y1="672.50" x2="127.00" y2="675.70" stroke="#1b1b1b" stroke-width="1.6" stroke-linecap="butt"/>
<text x="127.00" y="687.40" font-family='"Liberation Sans", sans-serif' font-size="11.5" font-weight="bold" text-anchor="middle" fill="#141414">SD 1.0</text>
<line x1="171.75" y1="672.50" x2="171.75" y2="675.70" stroke="#1b1b1b" stroke-width="1.6" stroke-linecap="butt"/>
<text x="171.75" y="687.40" font-family='"Liberation Sans", sans-serif' font-size="11.5" font-weight="bold" text-anchor="middle" fill="#141414">SD 1.25</text>
<line x1="216.75" y1="672.50" x2="216.75" y2="675.70" stroke="#1b1b1b" stroke-width="1.6" stroke-linecap="butt"/>
<text x="216.75" y="687.40" font-family='"Liberation Sans", sans-serif' font-size="11.5" font-weight="bold" text-anchor="middle" fill="#141414">SD 1.5</text>
<text x="32.20" y="613.00" font-family='"Liberation Sans", sans-serif' font-size="11" font-weight="bold" text-anchor="middle" fill="#141414" transform="rotate(-90 32.20 613.00)">VI</text>
<rect x="74.70" y="695.00" width="13.10" height="6.60" fill="#0b8616" stroke="#1b1b1b" stroke-width="2.0"/>
<text x="94.60" y="701.60" font-family='"Liberation Sans", sans-serif' font-size="9.75" font-weight="normal" text-anchor="start" fill="#141414">VCAN Low</text>
<rect x="155.50" y="695.00" width="13.00" height="6.60" fill="#fd0b0b" stroke="#1b1b1b" stroke-width="2.0"/>
<text x="175.10" y="701.60" font-family='"Liberation Sans", sans-serif' font-size="9.75" font-weight="normal" text-anchor="start" fill="#141414">VCAN High</text>
<line x1="340.25" y1="600.50" x2="340.25" y2="608.25" stroke="#1b1b1b" stroke-width="1.7" stroke-linecap="butt"/>
<line x1="337.35" y1="600.50" x2="343.15" y2="600.50" stroke="#1b1b1b" stroke-width="1.8" stroke-linecap="butt"/>
<rect x="335.10" y="609.10" width="10.30" height="63.40" fill="#0b8616" stroke="#1b1b1b" stroke-width="1.7"/>
<line x1="357.12" y1="573.75" x2="357.12" y2="580.00" stroke="#1b1b1b" stroke-width="1.7" stroke-linecap="butt"/>
<line x1="354.23" y1="573.75" x2="360.02" y2="573.75" stroke="#1b1b1b" stroke-width="1.8" stroke-linecap="butt"/>
<rect x="352.10" y="580.85" width="10.05" height="91.65" fill="#fd0b0b" stroke="#1b1b1b" stroke-width="1.7"/>
<text x="357.50" y="571.00" font-family='"Liberation Sans", sans-serif' font-size="13" font-weight="bold" text-anchor="middle" fill="#141414">**</text>
<line x1="385.00" y1="600.00" x2="385.00" y2="613.00" stroke="#1b1b1b" stroke-width="1.7" stroke-linecap="butt"/>
<line x1="382.10" y1="600.00" x2="387.90" y2="600.00" stroke="#1b1b1b" stroke-width="1.8" stroke-linecap="butt"/>
<rect x="379.85" y="613.85" width="10.30" height="58.65" fill="#0b8616" stroke="#1b1b1b" stroke-width="1.7"/>
<line x1="401.62" y1="566.75" x2="401.62" y2="577.50" stroke="#1b1b1b" stroke-width="1.7" stroke-linecap="butt"/>
<line x1="398.73" y1="566.75" x2="404.52" y2="566.75" stroke="#1b1b1b" stroke-width="1.8" stroke-linecap="butt"/>
<rect x="396.60" y="578.35" width="10.05" height="94.15" fill="#fd0b0b" stroke="#1b1b1b" stroke-width="1.7"/>
<text x="401.75" y="563.25" font-family='"Liberation Sans", sans-serif' font-size="13" font-weight="bold" text-anchor="middle" fill="#141414">*</text>
<line x1="429.50" y1="623.75" x2="429.50" y2="640.00" stroke="#1b1b1b" stroke-width="1.7" stroke-linecap="butt"/>
<line x1="426.60" y1="623.75" x2="432.40" y2="623.75" stroke="#1b1b1b" stroke-width="1.8" stroke-linecap="butt"/>
<rect x="424.10" y="640.85" width="10.80" height="31.65" fill="#0b8616" stroke="#1b1b1b" stroke-width="1.7"/>
<rect x="440.85" y="555.35" width="10.80" height="117.15" fill="#fd0b0b" stroke="#1b1b1b" stroke-width="1.7"/>
<text x="446.25" y="551.00" font-family='"Liberation Sans", sans-serif' font-size="13" font-weight="bold" text-anchor="middle" fill="#141414">***</text>
<line x1="474.12" y1="617.00" x2="474.12" y2="638.75" stroke="#1b1b1b" stroke-width="1.7" stroke-linecap="butt"/>
<line x1="471.23" y1="617.00" x2="477.02" y2="617.00" stroke="#1b1b1b" stroke-width="1.8" stroke-linecap="butt"/>
<rect x="469.10" y="639.60" width="10.05" height="32.90" fill="#0b8616" stroke="#1b1b1b" stroke-width="1.7"/>
<rect x="485.35" y="555.35" width="10.80" height="117.15" fill="#fd0b0b" stroke="#1b1b1b" stroke-width="1.7"/>
<text x="490.75" y="551.00" font-family='"Liberation Sans", sans-serif' font-size="13" font-weight="bold" text-anchor="middle" fill="#141414">**</text>
<line x1="327.00" y1="553.60" x2="327.00" y2="673.30" stroke="#1b1b1b" stroke-width="1.7" stroke-linecap="butt"/>
<line x1="327.00" y1="672.50" x2="504.50" y2="672.50" stroke="#1b1b1b" stroke-width="1.7" stroke-linecap="butt"/>
<line x1="323.80" y1="554.20" x2="327.00" y2="554.20" stroke="#1b1b1b" stroke-width="1.6" stroke-linecap="butt"/>
<text x="321.40" y="557.62" font-family='"Liberation Sans", sans-serif' font-size="9.5" font-weight="bold" text-anchor="end" fill="#141414">1.0</text>
<line x1="323.80" y1="577.86" x2="327.00" y2="577.86" stroke="#1b1b1b" stroke-width="1.6" stroke-linecap="butt"/>
<text x="321.40" y="581.28" font-family='"Liberation Sans", sans-serif' font-size="9.5" font-weight="bold" text-anchor="end" fill="#141414">0.8</text>
<line x1="323.80" y1="601.52" x2="327.00" y2="601.52" stroke="#1b1b1b" stroke-width="1.6" stroke-linecap="butt"/>
<text x="321.40" y="604.94" font-family='"Liberation Sans", sans-serif' font-size="9.5" font-weight="bold" text-anchor="end" fill="#141414">0.6</text>
<line x1="323.80" y1="625.18" x2="327.00" y2="625.18" stroke="#1b1b1b" stroke-width="1.6" stroke-linecap="butt"/>
<text x="321.40" y="628.60" font-family='"Liberation Sans", sans-serif' font-size="9.5" font-weight="bold" text-anchor="end" fill="#141414">0.4</text>
<line x1="323.80" y1="648.84" x2="327.00" y2="648.84" stroke="#1b1b1b" stroke-width="1.6" stroke-linecap="butt"/>
<text x="321.40" y="652.26" font-family='"Liberation Sans", sans-serif' font-size="9.5" font-weight="bold" text-anchor="end" fill="#141414">0.2</text>
<line x1="323.80" y1="672.50" x2="327.00" y2="672.50" stroke="#1b1b1b" stroke-width="1.6" stroke-linecap="butt"/>
<text x="321.40" y="675.92" font-family='"Liberation Sans", sans-serif' font-size="9.5" font-weight="bold" text-anchor="end" fill="#141414">0.0</text>
<line x1="348.75" y1="672.50" x2="348.75" y2="675.70" stroke="#1b1b1b" stroke-width="1.6" stroke-linecap="butt"/>
<text x="348.75" y="687.40" font-family='"Liberation Sans", sans-serif' font-size="11.5" font-weight="bold" text-anchor="middle" fill="#141414">SD 0.0</text>
<line x1="393.20" y1="672.50" x2="393.20" y2="675.70" stroke="#1b1b1b" stroke-width="1.6" stroke-linecap="butt"/>
<text x="393.20" y="687.40" font-family='"Liberation Sans", sans-serif' font-size="11.5" font-weight="bold" text-anchor="middle" fill="#141414">SD 1.0</text>
<line x1="437.50" y1="672.50" x2="437.50" y2="675.70" stroke="#1b1b1b" stroke-width="1.6" stroke-linecap="butt"/>
<text x="437.50" y="687.40" font-family='"Liberation Sans", sans-serif' font-size="11.5" font-weight="bold" text-anchor="middle" fill="#141414">SD 1.25</text>
<line x1="482.50" y1="672.50" x2="482.50" y2="675.70" stroke="#1b1b1b" stroke-width="1.6" stroke-linecap="butt"/>
<text x="482.50" y="687.40" font-family='"Liberation Sans", sans-serif' font-size="11.5" font-weight="bold" text-anchor="middle" fill="#141414">SD 1.5</text>
<text x="298.00" y="612.60" font-family='"Liberation Sans", sans-serif' font-size="11.4" font-weight="bold" text-anchor="middle" fill="#141414" transform="rotate(-90 298.00 612.60)">LVI</text>
<rect x="340.50" y="695.60" width="12.75" height="6.60" fill="#0b8616" stroke="#1b1b1b" stroke-width="2.0"/>
<text x="360.00" y="702.20" font-family='"Liberation Sans", sans-serif' font-size="9.75" font-weight="normal" text-anchor="start" fill="#141414">VCAN Low</text>
<rect x="420.00" y="695.60" width="12.50" height="6.60" fill="#fd0b0b" stroke="#1b1b1b" stroke-width="2.0"/>
<text x="438.75" y="702.20" font-family='"Liberation Sans", sans-serif' font-size="9.75" font-weight="normal" text-anchor="start" fill="#141414">VCAN High</text>
<text x="-0.30" y="728.60" font-family='"Liberation Sans", sans-serif' font-size="16" font-weight="bold" text-anchor="start" fill="#141414">E</text>
<line x1="74.00" y1="756.25" x2="74.00" y2="765.00" stroke="#1b1b1b" stroke-width="1.7" stroke-linecap="butt"/>
<line x1="71.10" y1="756.25" x2="76.90" y2="756.25" stroke="#1b1b1b" stroke-width="1.8" stroke-linecap="butt"/>
<rect x="68.85" y="765.85" width="10.30" height="81.35" fill="#0b8616" stroke="#1b1b1b" stroke-width="1.7"/>
<line x1="91.00" y1="776.75" x2="91.00" y2="785.00" stroke="#1b1b1b" stroke-width="1.7" stroke-linecap="butt"/>
<line x1="88.10" y1="776.75" x2="93.90" y2="776.75" stroke="#1b1b1b" stroke-width="1.8" stroke-linecap="butt"/>
<rect x="85.85" y="785.85" width="10.30" height="61.35" fill="#fd0b0b" stroke="#1b1b1b" stroke-width="1.7"/>
<line x1="122.25" y1="752.00" x2="122.25" y2="768.00" stroke="#1b1b1b" stroke-width="1.7" stroke-linecap="butt"/>
<line x1="119.35" y1="752.00" x2="125.15" y2="752.00" stroke="#1b1b1b" stroke-width="1.8" stroke-linecap="butt"/>
<rect x="117.10" y="768.85" width="10.30" height="78.35" fill="#0b8616" stroke="#1b1b1b" stroke-width="1.7"/>
<line x1="137.12" y1="767.50" x2="137.12" y2="786.25" stroke="#1b1b1b" stroke-width="1.7" stroke-linecap="butt"/>
<line x1="134.22" y1="767.50" x2="140.03" y2="767.50" stroke="#1b1b1b" stroke-width="1.8" stroke-linecap="butt"/>
<rect x="132.10" y="787.10" width="10.05" height="60.10" fill="#fd0b0b" stroke="#1b1b1b" stroke-width="1.7"/>
<line x1="166.50" y1="752.00" x2="166.50" y2="768.00" stroke="#1b1b1b" stroke-width="1.7" stroke-linecap="butt"/>
<line x1="163.60" y1="752.00" x2="169.40" y2="752.00" stroke="#1b1b1b" stroke-width="1.8" stroke-linecap="butt"/>
<rect x="161.35" y="768.85" width="10.30" height="78.35" fill="#0b8616" stroke="#1b1b1b" stroke-width="1.7"/>
<line x1="183.75" y1="758.75" x2="183.75" y2="786.25" stroke="#1b1b1b" stroke-width="1.7" stroke-linecap="butt"/>
<line x1="180.85" y1="758.75" x2="186.65" y2="758.75" stroke="#1b1b1b" stroke-width="1.8" stroke-linecap="butt"/>
<rect x="178.35" y="787.10" width="10.80" height="60.10" fill="#fd0b0b" stroke="#1b1b1b" stroke-width="1.7"/>
<line x1="212.75" y1="743.00" x2="212.75" y2="761.25" stroke="#1b1b1b" stroke-width="1.7" stroke-linecap="butt"/>
<line x1="209.85" y1="743.00" x2="215.65" y2="743.00" stroke="#1b1b1b" stroke-width="1.8" stroke-linecap="butt"/>
<rect x="207.60" y="762.10" width="10.30" height="85.10" fill="#0b8616" stroke="#1b1b1b" stroke-width="1.7"/>
<line x1="230.75" y1="765.50" x2="230.75" y2="806.00" stroke="#1b1b1b" stroke-width="1.7" stroke-linecap="butt"/>
<line x1="227.85" y1="765.50" x2="233.65" y2="765.50" stroke="#1b1b1b" stroke-width="1.8" stroke-linecap="butt"/>
<rect x="225.35" y="806.85" width="10.80" height="40.35" fill="#fd0b0b" stroke="#1b1b1b" stroke-width="1.7"/>
<line x1="59.70" y1="724.10" x2="59.70" y2="848.00" stroke="#1b1b1b" stroke-width="1.7" stroke-linecap="butt"/>
<line x1="59.70" y1="847.20" x2="245.00" y2="847.20" stroke="#1b1b1b" stroke-width="1.7" stroke-linecap="butt"/>
<line x1="56.50" y1="724.70" x2="59.70" y2="724.70" stroke="#1b1b1b" stroke-width="1.6" stroke-linecap="butt"/>
<text x="53.60" y="728.30" font-family='"Liberation Sans", sans-serif' font-size="10" font-weight="bold" text-anchor="end" fill="#141414">1.0</text>
<line x1="56.50" y1="749.20" x2="59.70" y2="749.20" stroke="#1b1b1b" stroke-width="1.6" stroke-linecap="butt"/>
<text x="53.60" y="752.80" font-family='"Liberation Sans", sans-serif' font-size="10" font-weight="bold" text-anchor="end" fill="#141414">0.8</text>
<line x1="56.50" y1="773.70" x2="59.70" y2="773.70" stroke="#1b1b1b" stroke-width="1.6" stroke-linecap="butt"/>
<text x="53.60" y="777.30" font-family='"Liberation Sans", sans-serif' font-size="10" font-weight="bold" text-anchor="end" fill="#141414">0.6</text>
<line x1="56.50" y1="798.20" x2="59.70" y2="798.20" stroke="#1b1b1b" stroke-width="1.6" stroke-linecap="butt"/>
<text x="53.60" y="801.80" font-family='"Liberation Sans", sans-serif' font-size="10" font-weight="bold" text-anchor="end" fill="#141414">0.4</text>
<line x1="56.50" y1="822.70" x2="59.70" y2="822.70" stroke="#1b1b1b" stroke-width="1.6" stroke-linecap="butt"/>
<text x="53.60" y="826.30" font-family='"Liberation Sans", sans-serif' font-size="10" font-weight="bold" text-anchor="end" fill="#141414">0.2</text>
<line x1="56.50" y1="847.20" x2="59.70" y2="847.20" stroke="#1b1b1b" stroke-width="1.6" stroke-linecap="butt"/>
<text x="53.60" y="850.80" font-family='"Liberation Sans", sans-serif' font-size="10" font-weight="bold" text-anchor="end" fill="#141414">0.0</text>
<line x1="82.30" y1="847.20" x2="82.30" y2="850.40" stroke="#1b1b1b" stroke-width="1.6" stroke-linecap="butt"/>
<text x="82.30" y="860.60" font-family='"Liberation Sans", sans-serif' font-size="10.3" font-weight="bold" text-anchor="middle" fill="#141414">SD 0.0</text>
<line x1="128.50" y1="847.20" x2="128.50" y2="850.40" stroke="#1b1b1b" stroke-width="1.6" stroke-linecap="butt"/>
<text x="128.50" y="860.60" font-family='"Liberation Sans", sans-serif' font-size="10.3" font-weight="bold" text-anchor="middle" fill="#141414">SD 1.0</text>
<line x1="175.00" y1="847.20" x2="175.00" y2="850.40" stroke="#1b1b1b" stroke-width="1.6" stroke-linecap="butt"/>
<text x="175.00" y="860.60" font-family='"Liberation Sans", sans-serif' font-size="10.3" font-weight="bold" text-anchor="middle" fill="#141414">SD 1.25</text>
<line x1="221.25" y1="847.20" x2="221.25" y2="850.40" stroke="#1b1b1b" stroke-width="1.6" stroke-linecap="butt"/>
<text x="221.25" y="860.60" font-family='"Liberation Sans", sans-serif' font-size="10.3" font-weight="bold" text-anchor="middle" fill="#141414">SD 1.5</text>
<text x="34.60" y="785.50" font-family='"Liberation Sans", sans-serif' font-size="11.4" font-weight="bold" text-anchor="middle" fill="#141414" transform="rotate(-90 34.60 785.50)">VI</text>
<rect x="74.30" y="868.60" width="14.10" height="6.60" fill="#0b8616" stroke="#1b1b1b" stroke-width="2.0"/>
<text x="95.70" y="875.20" font-family='"Liberation Sans", sans-serif' font-size="10" font-weight="normal" text-anchor="start" fill="#141414">FOXA2 Low</text>
<rect x="157.50" y="868.60" width="12.50" height="6.60" fill="#fd0b0b" stroke="#1b1b1b" stroke-width="2.0"/>
<text x="177.50" y="875.20" font-family='"Liberation Sans", sans-serif' font-size="10" font-weight="normal" text-anchor="start" fill="#141414">FOXA2 High</text>
<line x1="337.75" y1="746.75" x2="337.75" y2="753.75" stroke="#1b1b1b" stroke-width="1.7" stroke-linecap="butt"/>
<line x1="334.85" y1="746.75" x2="340.65" y2="746.75" stroke="#1b1b1b" stroke-width="1.8" stroke-linecap="butt"/>
<rect x="332.60" y="754.60" width="10.30" height="91.90" fill="#0b8616" stroke="#1b1b1b" stroke-width="1.7"/>
<line x1="355.00" y1="766.75" x2="355.00" y2="773.75" stroke="#1b1b1b" stroke-width="1.7" stroke-linecap="butt"/>
<line x1="352.10" y1="766.75" x2="357.90" y2="766.75" stroke="#1b1b1b" stroke-width="1.8" stroke-linecap="butt"/>
<rect x="350.10" y="774.60" width="9.80" height="71.90" fill="#fd0b0b" stroke="#1b1b1b" stroke-width="1.7"/>
<text x="355.00" y="761.00" font-family='"Liberation Sans", sans-serif' font-size="13" font-weight="bold" text-anchor="middle" fill="#141414">*</text>
<line x1="384.00" y1="738.75" x2="384.00" y2="749.25" stroke="#1b1b1b" stroke-width="1.7" stroke-linecap="butt"/>
<line x1="381.10" y1="738.75" x2="386.90" y2="738.75" stroke="#1b1b1b" stroke-width="1.8" stroke-linecap="butt"/>
<rect x="378.85" y="750.10" width="10.30" height="96.40" fill="#0b8616" stroke="#1b1b1b" stroke-width="1.7"/>
<line x1="401.00" y1="761.25" x2="401.00" y2="777.00" stroke="#1b1b1b" stroke-width="1.7" stroke-linecap="butt"/>
<line x1="398.10" y1="761.25" x2="403.90" y2="761.25" stroke="#1b1b1b" stroke-width="1.8" stroke-linecap="butt"/>
<rect x="395.85" y="777.85" width="10.30" height="68.65" fill="#fd0b0b" stroke="#1b1b1b" stroke-width="1.7"/>
<line x1="430.00" y1="740.00" x2="430.00" y2="751.25" stroke="#1b1b1b" stroke-width="1.7" stroke-linecap="butt"/>
<line x1="427.10" y1="740.00" x2="432.90" y2="740.00" stroke="#1b1b1b" stroke-width="1.8" stroke-linecap="butt"/>
<rect x="424.60" y="752.10" width="10.80" height="94.40" fill="#0b8616" stroke="#1b1b1b" stroke-width="1.7"/>
<line x1="447.25" y1="746.75" x2="447.25" y2="769.25" stroke="#1b1b1b" stroke-width="1.7" stroke-linecap="butt"/>
<line x1="444.35" y1="746.75" x2="450.15" y2="746.75" stroke="#1b1b1b" stroke-width="1.8" stroke-linecap="butt"/>
<rect x="442.10" y="770.10" width="10.30" height="76.40" fill="#fd0b0b" stroke="#1b1b1b" stroke-width="1.7"/>
<line x1="476.25" y1="745.75" x2="476.25" y2="759.25" stroke="#1b1b1b" stroke-width="1.7" stroke-linecap="butt"/>
<line x1="473.35" y1="745.75" x2="479.15" y2="745.75" stroke="#1b1b1b" stroke-width="1.8" stroke-linecap="butt"/>
<rect x="470.85" y="760.10" width="10.80" height="86.40" fill="#0b8616" stroke="#1b1b1b" stroke-width="1.7"/>
<line x1="493.50" y1="723.75" x2="493.50" y2="753.75" stroke="#1b1b1b" stroke-width="1.7" stroke-linecap="butt"/>
<line x1="490.60" y1="723.75" x2="496.40" y2="723.75" stroke="#1b1b1b" stroke-width="1.8" stroke-linecap="butt"/>
<rect x="488.35" y="754.60" width="10.30" height="91.90" fill="#fd0b0b" stroke="#1b1b1b" stroke-width="1.7"/>
<line x1="323.00" y1="723.80" x2="323.00" y2="847.30" stroke="#1b1b1b" stroke-width="1.7" stroke-linecap="butt"/>
<line x1="323.00" y1="846.50" x2="507.50" y2="846.50" stroke="#1b1b1b" stroke-width="1.7" stroke-linecap="butt"/>
<line x1="319.80" y1="724.40" x2="323.00" y2="724.40" stroke="#1b1b1b" stroke-width="1.6" stroke-linecap="butt"/>
<text x="317.90" y="728.00" font-family='"Liberation Sans", sans-serif' font-size="10" font-weight="bold" text-anchor="end" fill="#141414">1.0</text>
<line x1="319.80" y1="748.82" x2="323.00" y2="748.82" stroke="#1b1b1b" stroke-width="1.6" stroke-linecap="butt"/>
<text x="317.90" y="752.42" font-family='"Liberation Sans", sans-serif' font-size="10" font-weight="bold" text-anchor="end" fill="#141414">0.8</text>
<line x1="319.80" y1="773.24" x2="323.00" y2="773.24" stroke="#1b1b1b" stroke-width="1.6" stroke-linecap="butt"/>
<text x="317.90" y="776.84" font-family='"Liberation Sans", sans-serif' font-size="10" font-weight="bold" text-anchor="end" fill="#141414">0.6</text>
<line x1="319.80" y1="797.66" x2="323.00" y2="797.66" stroke="#1b1b1b" stroke-width="1.6" stroke-linecap="butt"/>
<text x="317.90" y="801.26" font-family='"Liberation Sans", sans-serif' font-size="10" font-weight="bold" text-anchor="end" fill="#141414">0.4</text>
<line x1="319.80" y1="822.08" x2="323.00" y2="822.08" stroke="#1b1b1b" stroke-width="1.6" stroke-linecap="butt"/>
<text x="317.90" y="825.68" font-family='"Liberation Sans", sans-serif' font-size="10" font-weight="bold" text-anchor="end" fill="#141414">0.2</text>
<line x1="319.80" y1="846.50" x2="323.00" y2="846.50" stroke="#1b1b1b" stroke-width="1.6" stroke-linecap="butt"/>
<text x="317.90" y="850.10" font-family='"Liberation Sans", sans-serif' font-size="10" font-weight="bold" text-anchor="end" fill="#141414">0.0</text>
<line x1="346.25" y1="846.50" x2="346.25" y2="849.70" stroke="#1b1b1b" stroke-width="1.6" stroke-linecap="butt"/>
<text x="346.25" y="860.60" font-family='"Liberation Sans", sans-serif' font-size="10.3" font-weight="bold" text-anchor="middle" fill="#141414">SD 0.0</text>
<line x1="392.00" y1="846.50" x2="392.00" y2="849.70" stroke="#1b1b1b" stroke-width="1.6" stroke-linecap="butt"/>
<text x="392.00" y="860.60" font-family='"Liberation Sans", sans-serif' font-size="10.3" font-weight="bold" text-anchor="middle" fill="#141414">SD 1.0</text>
<line x1="438.00" y1="846.50" x2="438.00" y2="849.70" stroke="#1b1b1b" stroke-width="1.6" stroke-linecap="butt"/>
<text x="438.00" y="860.60" font-family='"Liberation Sans", sans-serif' font-size="10.3" font-weight="bold" text-anchor="middle" fill="#141414">SD 1.25</text>
<line x1="484.50" y1="846.50" x2="484.50" y2="849.70" stroke="#1b1b1b" stroke-width="1.6" stroke-linecap="butt"/>
<text x="484.50" y="860.60" font-family='"Liberation Sans", sans-serif' font-size="10.3" font-weight="bold" text-anchor="middle" fill="#141414">SD 1.5</text>
<text x="297.70" y="784.40" font-family='"Liberation Sans", sans-serif' font-size="12" font-weight="bold" text-anchor="middle" fill="#141414" transform="rotate(-90 297.70 784.40)">LVI</text>
<rect x="339.25" y="868.40" width="12.25" height="6.60" fill="#0b8616" stroke="#1b1b1b" stroke-width="2.0"/>
<text x="359.50" y="875.00" font-family='"Liberation Sans", sans-serif' font-size="10" font-weight="normal" text-anchor="start" fill="#141414">FOXA2 Low</text>
<rect x="419.25" y="868.40" width="12.25" height="6.60" fill="#fd0b0b" stroke="#1b1b1b" stroke-width="2.0"/>
<text x="438.75" y="875.00" font-family='"Liberation Sans", sans-serif' font-size="10" font-weight="normal" text-anchor="start" fill="#141414">FOXA2 High</text>
</svg></body></html>
